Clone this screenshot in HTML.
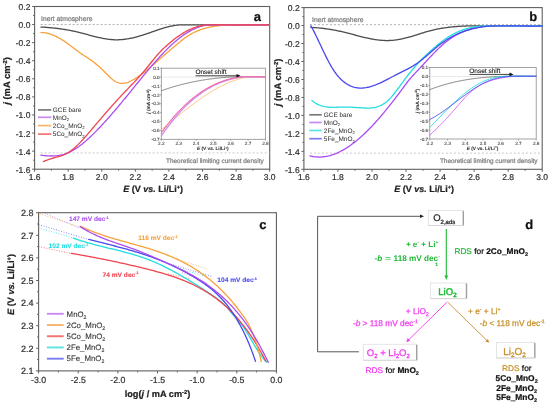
<!DOCTYPE html><html><head><meta charset="utf-8"><style>html,body{margin:0;padding:0;background:#fff;overflow:hidden;width:550px;height:405px;}svg{display:block;filter:blur(0.35px);}text{font-family:"Liberation Sans", sans-serif;text-rendering:geometricPrecision;}</style></head><body>
<svg width="550" height="405" viewBox="0 0 550 405">
<rect width="550" height="405" fill="#fff"/>
<rect x="34.60" y="6.50" width="235.10" height="162.70" fill="none" stroke="#606060" stroke-width="1.10"/>
<line x1="32.10" y1="6.50" x2="34.60" y2="6.50" stroke="#606060" stroke-width="1.00" />
<text x="30.40" y="10.00" font-size="8.50" text-anchor="end" font-weight="normal" fill="#333" stroke="#333" stroke-width="0.22" >0.2</text>
<line x1="33.10" y1="15.54" x2="34.60" y2="15.54" stroke="#606060" stroke-width="1.00" />
<line x1="32.10" y1="24.58" x2="34.60" y2="24.58" stroke="#606060" stroke-width="1.00" />
<text x="30.40" y="28.08" font-size="8.50" text-anchor="end" font-weight="normal" fill="#333" stroke="#333" stroke-width="0.22" >0.0</text>
<line x1="33.10" y1="33.62" x2="34.60" y2="33.62" stroke="#606060" stroke-width="1.00" />
<line x1="32.10" y1="42.66" x2="34.60" y2="42.66" stroke="#606060" stroke-width="1.00" />
<text x="30.40" y="46.16" font-size="8.50" text-anchor="end" font-weight="normal" fill="#333" stroke="#333" stroke-width="0.22" >-0.2</text>
<line x1="33.10" y1="51.69" x2="34.60" y2="51.69" stroke="#606060" stroke-width="1.00" />
<line x1="32.10" y1="60.73" x2="34.60" y2="60.73" stroke="#606060" stroke-width="1.00" />
<text x="30.40" y="64.23" font-size="8.50" text-anchor="end" font-weight="normal" fill="#333" stroke="#333" stroke-width="0.22" >-0.4</text>
<line x1="33.10" y1="69.77" x2="34.60" y2="69.77" stroke="#606060" stroke-width="1.00" />
<line x1="32.10" y1="78.81" x2="34.60" y2="78.81" stroke="#606060" stroke-width="1.00" />
<text x="30.40" y="82.31" font-size="8.50" text-anchor="end" font-weight="normal" fill="#333" stroke="#333" stroke-width="0.22" >-0.6</text>
<line x1="33.10" y1="87.85" x2="34.60" y2="87.85" stroke="#606060" stroke-width="1.00" />
<line x1="32.10" y1="96.89" x2="34.60" y2="96.89" stroke="#606060" stroke-width="1.00" />
<text x="30.40" y="100.39" font-size="8.50" text-anchor="end" font-weight="normal" fill="#333" stroke="#333" stroke-width="0.22" >-0.8</text>
<line x1="33.10" y1="105.93" x2="34.60" y2="105.93" stroke="#606060" stroke-width="1.00" />
<line x1="32.10" y1="114.97" x2="34.60" y2="114.97" stroke="#606060" stroke-width="1.00" />
<text x="30.40" y="118.47" font-size="8.50" text-anchor="end" font-weight="normal" fill="#333" stroke="#333" stroke-width="0.22" >-1.0</text>
<line x1="33.10" y1="124.01" x2="34.60" y2="124.01" stroke="#606060" stroke-width="1.00" />
<line x1="32.10" y1="133.04" x2="34.60" y2="133.04" stroke="#606060" stroke-width="1.00" />
<text x="30.40" y="136.54" font-size="8.50" text-anchor="end" font-weight="normal" fill="#333" stroke="#333" stroke-width="0.22" >-1.2</text>
<line x1="33.10" y1="142.08" x2="34.60" y2="142.08" stroke="#606060" stroke-width="1.00" />
<line x1="32.10" y1="151.12" x2="34.60" y2="151.12" stroke="#606060" stroke-width="1.00" />
<text x="30.40" y="154.62" font-size="8.50" text-anchor="end" font-weight="normal" fill="#333" stroke="#333" stroke-width="0.22" >-1.4</text>
<line x1="33.10" y1="160.16" x2="34.60" y2="160.16" stroke="#606060" stroke-width="1.00" />
<line x1="32.10" y1="169.20" x2="34.60" y2="169.20" stroke="#606060" stroke-width="1.00" />
<text x="30.40" y="172.70" font-size="8.50" text-anchor="end" font-weight="normal" fill="#333" stroke="#333" stroke-width="0.22" >-1.6</text>
<line x1="34.60" y1="169.20" x2="34.60" y2="171.70" stroke="#606060" stroke-width="1.00" />
<text x="34.60" y="180.20" font-size="8.50" text-anchor="middle" font-weight="normal" fill="#333" stroke="#333" stroke-width="0.22" >1.6</text>
<line x1="51.39" y1="169.20" x2="51.39" y2="170.70" stroke="#606060" stroke-width="1.00" />
<line x1="68.19" y1="169.20" x2="68.19" y2="171.70" stroke="#606060" stroke-width="1.00" />
<text x="68.19" y="180.20" font-size="8.50" text-anchor="middle" font-weight="normal" fill="#333" stroke="#333" stroke-width="0.22" >1.8</text>
<line x1="84.98" y1="169.20" x2="84.98" y2="170.70" stroke="#606060" stroke-width="1.00" />
<line x1="101.77" y1="169.20" x2="101.77" y2="171.70" stroke="#606060" stroke-width="1.00" />
<text x="101.77" y="180.20" font-size="8.50" text-anchor="middle" font-weight="normal" fill="#333" stroke="#333" stroke-width="0.22" >2.0</text>
<line x1="118.56" y1="169.20" x2="118.56" y2="170.70" stroke="#606060" stroke-width="1.00" />
<line x1="135.36" y1="169.20" x2="135.36" y2="171.70" stroke="#606060" stroke-width="1.00" />
<text x="135.36" y="180.20" font-size="8.50" text-anchor="middle" font-weight="normal" fill="#333" stroke="#333" stroke-width="0.22" >2.2</text>
<line x1="152.15" y1="169.20" x2="152.15" y2="170.70" stroke="#606060" stroke-width="1.00" />
<line x1="168.94" y1="169.20" x2="168.94" y2="171.70" stroke="#606060" stroke-width="1.00" />
<text x="168.94" y="180.20" font-size="8.50" text-anchor="middle" font-weight="normal" fill="#333" stroke="#333" stroke-width="0.22" >2.4</text>
<line x1="185.74" y1="169.20" x2="185.74" y2="170.70" stroke="#606060" stroke-width="1.00" />
<line x1="202.53" y1="169.20" x2="202.53" y2="171.70" stroke="#606060" stroke-width="1.00" />
<text x="202.53" y="180.20" font-size="8.50" text-anchor="middle" font-weight="normal" fill="#333" stroke="#333" stroke-width="0.22" >2.6</text>
<line x1="219.32" y1="169.20" x2="219.32" y2="170.70" stroke="#606060" stroke-width="1.00" />
<line x1="236.11" y1="169.20" x2="236.11" y2="171.70" stroke="#606060" stroke-width="1.00" />
<text x="236.11" y="180.20" font-size="8.50" text-anchor="middle" font-weight="normal" fill="#333" stroke="#333" stroke-width="0.22" >2.8</text>
<line x1="252.91" y1="169.20" x2="252.91" y2="170.70" stroke="#606060" stroke-width="1.00" />
<line x1="269.70" y1="169.20" x2="269.70" y2="171.70" stroke="#606060" stroke-width="1.00" />
<text x="269.70" y="180.20" font-size="8.50" text-anchor="middle" font-weight="normal" fill="#333" stroke="#333" stroke-width="0.22" >3.0</text>
<line x1="40.60" y1="24.58" x2="269.70" y2="24.58" stroke="#9a9a9a" stroke-width="0.80" stroke-dasharray="2,2"/>
<line x1="40.60" y1="152.93" x2="269.70" y2="152.93" stroke="#bdbdbd" stroke-width="0.80" stroke-dasharray="2,2"/>
<text x="41.10" y="21.08" font-size="6.80" text-anchor="start" font-weight="normal" fill="#7a7a7a" stroke="#7a7a7a" stroke-width="0.22" >Inert atmosphere</text>
<text x="263.70" y="162.93" font-size="6.45" text-anchor="end" font-weight="normal" fill="#7d7d7d" stroke="#7d7d7d" stroke-width="0.22" >Theoretical limiting current density</text>
<text x="253.80" y="20.80" font-size="13.00" text-anchor="start" font-weight="bold" fill="#111" stroke="#111" stroke-width="0.22" >a</text>
<text x="153.15" y="191.70" font-size="9.00" text-anchor="middle" font-weight="bold" fill="#222" stroke="#222" stroke-width="0.22" ><tspan font-style="italic">E</tspan> (V <tspan font-style="italic">vs.</tspan> Li/Li<tspan dy="-3" font-size="5.5">+</tspan><tspan dy="3">)</tspan></text>
<g transform="translate(10.20,81.00) rotate(-90)">
<text x="0.00" y="0.00" font-size="9.40" text-anchor="middle" font-weight="bold" fill="#222" stroke="#222" stroke-width="0.22" ><tspan font-style="italic">j</tspan> (mA cm<tspan dy="-3.2" font-size="5.8">-2</tspan><tspan dy="3.2">)</tspan></text>
</g>
<path d="M40.90,27.04 L41.90,27.09 L42.90,27.14 L43.90,27.20 L44.90,27.26 L45.90,27.33 L46.90,27.40 L47.90,27.48 L48.90,27.56 L49.90,27.64 L50.90,27.73 L51.90,27.82 L52.90,27.92 L53.90,28.03 L54.90,28.14 L55.90,28.25 L56.90,28.37 L57.90,28.49 L58.90,28.62 L59.90,28.75 L60.90,28.89 L61.90,29.04 L62.90,29.19 L63.90,29.34 L64.90,29.50 L65.90,29.67 L66.90,29.84 L67.90,30.02 L68.90,30.21 L69.90,30.40 L70.90,30.59 L71.90,30.79 L72.90,31.00 L73.90,31.22 L74.90,31.44 L75.90,31.66 L76.90,31.90 L77.90,32.14 L78.90,32.38 L79.90,32.63 L80.90,32.89 L81.90,33.15 L82.90,33.41 L83.90,33.67 L84.90,33.94 L85.90,34.20 L86.90,34.47 L87.90,34.74 L88.90,35.01 L89.90,35.27 L90.90,35.54 L91.90,35.80 L92.90,36.06 L93.90,36.31 L94.90,36.57 L95.90,36.81 L96.90,37.05 L97.90,37.29 L98.90,37.52 L99.90,37.74 L100.90,37.95 L101.90,38.16 L102.90,38.35 L103.90,38.54 L104.90,38.72 L105.90,38.88 L106.90,39.04 L107.90,39.18 L108.90,39.31 L109.90,39.42 L110.90,39.52 L111.90,39.61 L112.90,39.68 L113.90,39.74 L114.90,39.78 L115.90,39.80 L116.90,39.81 L117.90,39.80 L118.90,39.77 L119.90,39.72 L120.90,39.66 L121.90,39.58 L122.90,39.49 L123.90,39.38 L124.90,39.26 L125.90,39.12 L126.90,38.97 L127.90,38.81 L128.90,38.63 L129.90,38.44 L130.90,38.24 L131.90,38.02 L132.90,37.80 L133.90,37.56 L134.90,37.32 L135.90,37.06 L136.90,36.79 L137.90,36.52 L138.90,36.24 L139.90,35.94 L140.90,35.64 L141.90,35.34 L142.90,35.02 L143.90,34.70 L144.90,34.38 L145.90,34.04 L146.90,33.71 L147.90,33.36 L148.90,33.02 L149.90,32.67 L150.90,32.32 L151.90,31.97 L152.90,31.62 L153.90,31.27 L154.90,30.92 L155.90,30.58 L156.90,30.23 L157.90,29.89 L158.90,29.56 L159.90,29.23 L160.90,28.91 L161.90,28.59 L162.90,28.28 L163.90,27.98 L164.90,27.69 L165.90,27.41 L166.90,27.14 L167.90,26.89 L168.90,26.64 L169.90,26.41 L170.90,26.20 L171.90,25.99 L172.90,25.80 L173.90,25.63 L174.90,25.47 L175.90,25.32 L176.90,25.18 L177.90,25.06 L178.90,24.95 L179.90,24.86 L180.90,24.80 L181.90,24.80 L182.90,24.80 L183.90,24.80 L184.90,24.80 L185.90,24.80 L186.90,24.80 L187.90,24.80 L188.90,24.80 L189.90,24.80 L190.90,24.80 L191.90,24.80 L192.90,24.80 L193.90,24.80 L194.90,24.80 L195.90,24.80 L196.90,24.80 L197.90,24.80 L198.90,24.80 L199.90,24.80 L200.90,24.80 L201.90,24.80 L202.90,24.80 L203.90,24.80 L204.90,24.80 L205.90,24.80 L206.90,24.80 L207.90,24.81 L208.90,24.83 L209.90,24.84 L210.90,24.86 L211.90,24.87 L212.90,24.88 L213.90,24.89 L214.90,24.89 L215.90,24.90 L216.90,24.91 L217.90,24.91 L218.90,24.91 L219.90,24.92 L220.90,24.92 L221.90,24.92 L222.90,24.92 L223.90,24.91 L224.90,24.91 L225.90,24.91 L226.90,24.91 L227.90,24.90 L228.90,24.90 L229.90,24.89 L230.90,24.88 L231.90,24.88 L232.90,24.87 L233.90,24.86 L234.90,24.86 L235.90,24.85 L236.90,24.84 L237.90,24.83 L238.90,24.82 L239.90,24.81 L240.90,24.81 L241.90,24.80 L242.90,24.80 L243.90,24.80 L244.90,24.80 L245.90,24.80 L246.90,24.80 L247.90,24.80 L248.90,24.80 L249.90,24.80 L250.90,24.80 L251.90,24.80 L252.90,24.80 L253.90,24.80 L254.90,24.80 L255.90,24.80 L256.90,24.80 L257.90,24.80 L258.90,24.80 L259.90,24.80 L260.90,24.80 L261.90,24.80 L262.90,24.80 L263.90,24.80 L264.90,24.80 L265.90,24.80 L266.90,24.81 L267.90,24.83 L268.90,24.85 L269.00,24.85" fill="none" stroke="#4d4d4d" stroke-width="1.30" stroke-linejoin="round" stroke-linecap="round" />
<path d="M40.90,32.53 L41.90,32.54 L42.90,32.59 L43.90,32.68 L44.90,32.81 L45.90,32.97 L46.90,33.17 L47.90,33.40 L48.90,33.67 L49.90,33.97 L50.90,34.30 L51.90,34.66 L52.90,35.06 L53.90,35.48 L54.90,35.92 L55.90,36.40 L56.90,36.89 L57.90,37.42 L58.90,37.96 L59.90,38.53 L60.90,39.11 L61.90,39.72 L62.90,40.35 L63.90,40.99 L64.90,41.65 L65.90,42.33 L66.90,43.02 L67.90,43.72 L68.90,44.44 L69.90,45.16 L70.90,45.90 L71.90,46.65 L72.90,47.40 L73.90,48.16 L74.90,48.92 L75.90,49.69 L76.90,50.45 L77.90,51.21 L78.90,51.95 L79.90,52.69 L80.90,53.41 L81.90,54.11 L82.90,54.79 L83.90,55.46 L84.90,56.11 L85.90,56.76 L86.90,57.41 L87.90,58.07 L88.90,58.73 L89.90,59.41 L90.90,60.10 L91.90,60.82 L92.90,61.55 L93.90,62.30 L94.90,63.08 L95.90,63.87 L96.90,64.69 L97.90,65.54 L98.90,66.41 L99.90,67.31 L100.90,68.23 L101.90,69.19 L102.90,70.18 L103.90,71.18 L104.90,72.20 L105.90,73.22 L106.90,74.24 L107.90,75.25 L108.90,76.23 L109.90,77.18 L110.90,78.09 L111.90,78.95 L112.90,79.76 L113.90,80.50 L114.90,81.16 L115.90,81.74 L116.90,82.23 L117.90,82.63 L118.90,82.94 L119.90,83.16 L120.90,83.29 L121.90,83.35 L122.90,83.34 L123.90,83.25 L124.90,83.09 L125.90,82.88 L126.90,82.60 L127.90,82.27 L128.90,81.89 L129.90,81.46 L130.90,80.99 L131.90,80.47 L132.90,79.93 L133.90,79.35 L134.90,78.74 L135.90,78.11 L136.90,77.46 L137.90,76.79 L138.90,76.10 L139.90,75.40 L140.90,74.68 L141.90,73.94 L142.90,73.19 L143.90,72.42 L144.90,71.65 L145.90,70.86 L146.90,70.05 L147.90,69.24 L148.90,68.42 L149.90,67.59 L150.90,66.75 L151.90,65.91 L152.90,65.05 L153.90,64.20 L154.90,63.33 L155.90,62.47 L156.90,61.60 L157.90,60.73 L158.90,59.85 L159.90,58.98 L160.90,58.11 L161.90,57.23 L162.90,56.36 L163.90,55.48 L164.90,54.61 L165.90,53.74 L166.90,52.88 L167.90,52.01 L168.90,51.15 L169.90,50.29 L170.90,49.43 L171.90,48.58 L172.90,47.73 L173.90,46.89 L174.90,46.05 L175.90,45.22 L176.90,44.40 L177.90,43.58 L178.90,42.77 L179.90,41.96 L180.90,41.17 L181.90,40.38 L182.90,39.60 L183.90,38.83 L184.90,38.08 L185.90,37.34 L186.90,36.63 L187.90,35.95 L188.90,35.30 L189.90,34.68 L190.90,34.09 L191.90,33.53 L192.90,32.99 L193.90,32.48 L194.90,32.00 L195.90,31.54 L196.90,31.10 L197.90,30.68 L198.90,30.29 L199.90,29.92 L200.90,29.56 L201.90,29.23 L202.90,28.91 L203.90,28.61 L204.90,28.33 L205.90,28.06 L206.90,27.80 L207.90,27.56 L208.90,27.34 L209.90,27.12 L210.90,26.92 L211.90,26.72 L212.90,26.54 L213.90,26.37 L214.90,26.21 L215.90,26.06 L216.90,25.92 L217.90,25.79 L218.90,25.67 L219.90,25.55 L220.90,25.45 L221.90,25.35 L222.90,25.26 L223.90,25.18 L224.90,25.11 L225.90,25.04 L226.90,24.98 L227.90,24.93 L228.90,24.88 L229.90,24.84 L230.90,24.81 L231.90,24.80 L232.90,24.80 L233.90,24.80 L234.90,24.80 L235.90,24.80 L236.90,24.80 L237.90,24.80 L238.90,24.80 L239.90,24.80 L240.90,24.80 L241.90,24.80 L242.90,24.80 L243.90,24.80 L244.90,24.80 L245.90,24.80 L246.90,24.80 L247.90,24.80 L248.90,24.80 L249.90,24.82 L250.90,24.83 L251.90,24.85 L252.90,24.86 L253.90,24.87 L254.90,24.89 L255.90,24.89 L256.90,24.90 L257.90,24.91 L258.90,24.91 L259.90,24.91 L260.90,24.91 L261.90,24.90 L262.90,24.89 L263.90,24.87 L264.90,24.85 L265.90,24.83 L266.90,24.80 L267.90,24.80 L268.90,24.80 L269.00,24.80" fill="none" stroke="#f9a13a" stroke-width="1.30" stroke-linejoin="round" stroke-linecap="round" />
<path d="M40.90,155.13 L41.90,155.27 L42.90,155.40 L43.90,155.53 L44.90,155.64 L45.90,155.73 L46.90,155.81 L47.90,155.88 L48.90,155.93 L49.90,155.97 L50.90,155.99 L51.90,155.98 L52.90,155.97 L53.90,155.93 L54.90,155.87 L55.90,155.78 L56.90,155.68 L57.90,155.55 L58.90,155.40 L59.90,155.22 L60.90,155.02 L61.90,154.79 L62.90,154.54 L63.90,154.26 L64.90,153.94 L65.90,153.60 L66.90,153.23 L67.90,152.83 L68.90,152.39 L69.90,151.93 L70.90,151.43 L71.90,150.91 L72.90,150.35 L73.90,149.77 L74.90,149.16 L75.90,148.52 L76.90,147.86 L77.90,147.18 L78.90,146.47 L79.90,145.73 L80.90,144.97 L81.90,144.20 L82.90,143.39 L83.90,142.57 L84.90,141.73 L85.90,140.87 L86.90,139.99 L87.90,139.10 L88.90,138.18 L89.90,137.25 L90.90,136.31 L91.90,135.35 L92.90,134.38 L93.90,133.39 L94.90,132.39 L95.90,131.38 L96.90,130.35 L97.90,129.32 L98.90,128.28 L99.90,127.23 L100.90,126.16 L101.90,125.09 L102.90,124.01 L103.90,122.92 L104.90,121.83 L105.90,120.72 L106.90,119.61 L107.90,118.49 L108.90,117.36 L109.90,116.22 L110.90,115.08 L111.90,113.93 L112.90,112.78 L113.90,111.61 L114.90,110.44 L115.90,109.27 L116.90,108.09 L117.90,106.91 L118.90,105.72 L119.90,104.52 L120.90,103.32 L121.90,102.12 L122.90,100.91 L123.90,99.70 L124.90,98.48 L125.90,97.26 L126.90,96.04 L127.90,94.82 L128.90,93.59 L129.90,92.36 L130.90,91.13 L131.90,89.90 L132.90,88.66 L133.90,87.43 L134.90,86.20 L135.90,84.96 L136.90,83.73 L137.90,82.50 L138.90,81.27 L139.90,80.04 L140.90,78.82 L141.90,77.60 L142.90,76.38 L143.90,75.17 L144.90,73.96 L145.90,72.75 L146.90,71.55 L147.90,70.36 L148.90,69.17 L149.90,67.99 L150.90,66.82 L151.90,65.65 L152.90,64.49 L153.90,63.34 L154.90,62.20 L155.90,61.07 L156.90,59.94 L157.90,58.83 L158.90,57.73 L159.90,56.64 L160.90,55.56 L161.90,54.49 L162.90,53.43 L163.90,52.39 L164.90,51.36 L165.90,50.34 L166.90,49.34 L167.90,48.35 L168.90,47.37 L169.90,46.42 L170.90,45.47 L171.90,44.55 L172.90,43.64 L173.90,42.74 L174.90,41.87 L175.90,41.01 L176.90,40.17 L177.90,39.35 L178.90,38.55 L179.90,37.77 L180.90,37.00 L181.90,36.26 L182.90,35.54 L183.90,34.84 L184.90,34.16 L185.90,33.50 L186.90,32.86 L187.90,32.25 L188.90,31.66 L189.90,31.09 L190.90,30.54 L191.90,30.02 L192.90,29.52 L193.90,29.04 L194.90,28.59 L195.90,28.16 L196.90,27.76 L197.90,27.38 L198.90,27.03 L199.90,26.71 L200.90,26.41 L201.90,26.13 L202.90,25.89 L203.90,25.67 L204.90,25.47 L205.90,25.30 L206.90,25.14 L207.90,25.01 L208.90,24.90 L209.90,24.81 L210.90,24.80 L211.90,24.80 L212.90,24.80 L213.90,24.80 L214.90,24.80 L215.90,24.80 L216.90,24.80 L217.90,24.80 L218.90,24.80 L219.90,24.80 L220.90,24.80 L221.90,24.80 L222.90,24.80 L223.90,24.80 L224.90,24.80 L225.90,24.80 L226.90,24.81 L227.90,24.84 L228.90,24.86 L229.90,24.88 L230.90,24.90 L231.90,24.91 L232.90,24.92 L233.90,24.93 L234.90,24.93 L235.90,24.93 L236.90,24.93 L237.90,24.93 L238.90,24.93 L239.90,24.92 L240.90,24.91 L241.90,24.90 L242.90,24.89 L243.90,24.88 L244.90,24.87 L245.90,24.86 L246.90,24.85 L247.90,24.84 L248.90,24.82 L249.90,24.81 L250.90,24.80 L251.90,24.80 L252.90,24.80 L253.90,24.80 L254.90,24.80 L255.90,24.80 L256.90,24.80 L257.90,24.80 L258.90,24.80 L259.90,24.80 L260.90,24.80 L261.90,24.80 L262.90,24.80 L263.90,24.80 L264.90,24.80 L265.90,24.80 L266.90,24.80 L267.90,24.80 L268.90,24.83 L269.00,24.83" fill="none" stroke="#aa4cf2" stroke-width="1.30" stroke-linejoin="round" stroke-linecap="round" />
<path d="M43.50,161.69 L44.50,161.18 L45.50,160.71 L46.50,160.28 L47.50,159.88 L48.50,159.51 L49.50,159.17 L50.50,158.86 L51.50,158.56 L52.50,158.27 L53.50,158.00 L54.50,157.73 L55.50,157.46 L56.50,157.19 L57.50,156.92 L58.50,156.64 L59.50,156.34 L60.50,156.03 L61.50,155.69 L62.50,155.33 L63.50,154.94 L64.50,154.51 L65.50,154.05 L66.50,153.55 L67.50,153.00 L68.50,152.40 L69.50,151.75 L70.50,151.06 L71.50,150.33 L72.50,149.55 L73.50,148.73 L74.50,147.88 L75.50,146.99 L76.50,146.06 L77.50,145.11 L78.50,144.13 L79.50,143.11 L80.50,142.08 L81.50,141.02 L82.50,139.94 L83.50,138.84 L84.50,137.73 L85.50,136.60 L86.50,135.46 L87.50,134.31 L88.50,133.15 L89.50,131.98 L90.50,130.81 L91.50,129.64 L92.50,128.47 L93.50,127.29 L94.50,126.12 L95.50,124.95 L96.50,123.78 L97.50,122.60 L98.50,121.43 L99.50,120.26 L100.50,119.09 L101.50,117.93 L102.50,116.76 L103.50,115.60 L104.50,114.44 L105.50,113.29 L106.50,112.13 L107.50,110.98 L108.50,109.84 L109.50,108.70 L110.50,107.56 L111.50,106.43 L112.50,105.30 L113.50,104.18 L114.50,103.06 L115.50,101.95 L116.50,100.84 L117.50,99.75 L118.50,98.65 L119.50,97.57 L120.50,96.49 L121.50,95.42 L122.50,94.36 L123.50,93.31 L124.50,92.26 L125.50,91.22 L126.50,90.18 L127.50,89.14 L128.50,88.10 L129.50,87.07 L130.50,86.03 L131.50,84.99 L132.50,83.95 L133.50,82.90 L134.50,81.84 L135.50,80.78 L136.50,79.71 L137.50,78.63 L138.50,77.54 L139.50,76.43 L140.50,75.32 L141.50,74.18 L142.50,73.04 L143.50,71.87 L144.50,70.69 L145.50,69.49 L146.50,68.26 L147.50,67.03 L148.50,65.78 L149.50,64.53 L150.50,63.28 L151.50,62.03 L152.50,60.78 L153.50,59.55 L154.50,58.33 L155.50,57.13 L156.50,55.95 L157.50,54.80 L158.50,53.68 L159.50,52.59 L160.50,51.54 L161.50,50.51 L162.50,49.52 L163.50,48.55 L164.50,47.60 L165.50,46.68 L166.50,45.78 L167.50,44.89 L168.50,44.02 L169.50,43.17 L170.50,42.32 L171.50,41.49 L172.50,40.67 L173.50,39.87 L174.50,39.08 L175.50,38.32 L176.50,37.57 L177.50,36.84 L178.50,36.13 L179.50,35.44 L180.50,34.77 L181.50,34.13 L182.50,33.50 L183.50,32.89 L184.50,32.30 L185.50,31.74 L186.50,31.19 L187.50,30.67 L188.50,30.17 L189.50,29.69 L190.50,29.23 L191.50,28.79 L192.50,28.37 L193.50,27.97 L194.50,27.60 L195.50,27.25 L196.50,26.92 L197.50,26.61 L198.50,26.33 L199.50,26.07 L200.50,25.83 L201.50,25.61 L202.50,25.42 L203.50,25.24 L204.50,25.09 L205.50,24.96 L206.50,24.85 L207.50,24.80 L208.50,24.80 L209.50,24.80 L210.50,24.80 L211.50,24.80 L212.50,24.80 L213.50,24.80 L214.50,24.80 L215.50,24.80 L216.50,24.80 L217.50,24.80 L218.50,24.80 L219.50,24.80 L220.50,24.80 L221.50,24.80 L222.50,24.80 L223.50,24.80 L224.50,24.80 L225.50,24.83 L226.50,24.86 L227.50,24.89 L228.50,24.92 L229.50,24.94 L230.50,24.95 L231.50,24.96 L232.50,24.97 L233.50,24.97 L234.50,24.98 L235.50,24.97 L236.50,24.97 L237.50,24.96 L238.50,24.95 L239.50,24.94 L240.50,24.93 L241.50,24.91 L242.50,24.90 L243.50,24.88 L244.50,24.86 L245.50,24.84 L246.50,24.82 L247.50,24.80 L248.50,24.80 L249.50,24.80 L250.50,24.80 L251.50,24.80 L252.50,24.80 L253.50,24.80 L254.50,24.80 L255.50,24.80 L256.50,24.80 L257.50,24.80 L258.50,24.80 L259.50,24.80 L260.50,24.80 L261.50,24.80 L262.50,24.80 L263.50,24.80 L264.50,24.80 L265.50,24.80 L266.50,24.80 L267.50,24.83 L268.50,24.87 L269.00,24.89" fill="none" stroke="#f0444f" stroke-width="1.30" stroke-linejoin="round" stroke-linecap="round" />
<line x1="38.00" y1="109.90" x2="51.30" y2="109.90" stroke="#7a7a7a" stroke-width="1.70" />
<text x="52.80" y="112.20" font-size="6.45" text-anchor="start" font-weight="normal" fill="#383838" stroke="#383838" stroke-width="0.05" >GCE bare</text>
<line x1="38.00" y1="117.30" x2="51.30" y2="117.30" stroke="#c78af5" stroke-width="1.70" />
<text x="52.80" y="119.60" font-size="6.45" text-anchor="start" font-weight="normal" fill="#383838" stroke="#383838" stroke-width="0.05" >MnO<tspan dy="1.5" font-size="4.2">2</tspan></text>
<line x1="38.00" y1="125.60" x2="51.30" y2="125.60" stroke="#f8b46a" stroke-width="1.70" />
<text x="52.80" y="127.90" font-size="6.45" text-anchor="start" font-weight="normal" fill="#383838" stroke="#383838" stroke-width="0.05" >2Co_MnO<tspan dy="1.5" font-size="4.2">2</tspan></text>
<line x1="38.00" y1="134.10" x2="51.30" y2="134.10" stroke="#f37272" stroke-width="1.70" />
<text x="52.80" y="136.40" font-size="6.45" text-anchor="start" font-weight="normal" fill="#383838" stroke="#383838" stroke-width="0.05" >5Co_MnO<tspan dy="1.5" font-size="4.2">2</tspan></text>
<rect x="161.30" y="68.20" width="104.10" height="71.10" fill="#fff" stroke="#8c8c8c" stroke-width="0.8"/>
<line x1="161.30" y1="77.09" x2="265.40" y2="77.09" stroke="#d8d8d8" stroke-width="0.60" />
<line x1="159.80" y1="68.20" x2="161.30" y2="68.20" stroke="#777" stroke-width="0.60" />
<text x="159.70" y="69.90" font-size="4.70" text-anchor="end" font-weight="normal" fill="#444" stroke="#444" stroke-width="0.10" >0.1</text>
<line x1="159.80" y1="77.09" x2="161.30" y2="77.09" stroke="#777" stroke-width="0.60" />
<text x="159.70" y="78.79" font-size="4.70" text-anchor="end" font-weight="normal" fill="#444" stroke="#444" stroke-width="0.10" >0.0</text>
<line x1="159.80" y1="85.98" x2="161.30" y2="85.98" stroke="#777" stroke-width="0.60" />
<text x="159.70" y="87.68" font-size="4.70" text-anchor="end" font-weight="normal" fill="#444" stroke="#444" stroke-width="0.10" >-0.1</text>
<line x1="159.80" y1="94.86" x2="161.30" y2="94.86" stroke="#777" stroke-width="0.60" />
<text x="159.70" y="96.56" font-size="4.70" text-anchor="end" font-weight="normal" fill="#444" stroke="#444" stroke-width="0.10" >-0.2</text>
<line x1="159.80" y1="103.75" x2="161.30" y2="103.75" stroke="#777" stroke-width="0.60" />
<text x="159.70" y="105.45" font-size="4.70" text-anchor="end" font-weight="normal" fill="#444" stroke="#444" stroke-width="0.10" >-0.3</text>
<line x1="159.80" y1="112.64" x2="161.30" y2="112.64" stroke="#777" stroke-width="0.60" />
<text x="159.70" y="114.34" font-size="4.70" text-anchor="end" font-weight="normal" fill="#444" stroke="#444" stroke-width="0.10" >-0.4</text>
<line x1="159.80" y1="121.53" x2="161.30" y2="121.53" stroke="#777" stroke-width="0.60" />
<text x="159.70" y="123.23" font-size="4.70" text-anchor="end" font-weight="normal" fill="#444" stroke="#444" stroke-width="0.10" >-0.5</text>
<line x1="159.80" y1="130.41" x2="161.30" y2="130.41" stroke="#777" stroke-width="0.60" />
<text x="159.70" y="132.11" font-size="4.70" text-anchor="end" font-weight="normal" fill="#444" stroke="#444" stroke-width="0.10" >-0.6</text>
<line x1="159.80" y1="139.30" x2="161.30" y2="139.30" stroke="#777" stroke-width="0.60" />
<text x="159.70" y="141.00" font-size="4.70" text-anchor="end" font-weight="normal" fill="#444" stroke="#444" stroke-width="0.10" >-0.7</text>
<line x1="161.30" y1="139.30" x2="161.30" y2="140.80" stroke="#777" stroke-width="0.60" />
<text x="161.30" y="144.90" font-size="4.70" text-anchor="middle" font-weight="normal" fill="#444" stroke="#444" stroke-width="0.10" >2.2</text>
<line x1="178.65" y1="139.30" x2="178.65" y2="140.80" stroke="#777" stroke-width="0.60" />
<text x="178.65" y="144.90" font-size="4.70" text-anchor="middle" font-weight="normal" fill="#444" stroke="#444" stroke-width="0.10" >2.3</text>
<line x1="196.00" y1="139.30" x2="196.00" y2="140.80" stroke="#777" stroke-width="0.60" />
<text x="196.00" y="144.90" font-size="4.70" text-anchor="middle" font-weight="normal" fill="#444" stroke="#444" stroke-width="0.10" >2.4</text>
<line x1="213.35" y1="139.30" x2="213.35" y2="140.80" stroke="#777" stroke-width="0.60" />
<text x="213.35" y="144.90" font-size="4.70" text-anchor="middle" font-weight="normal" fill="#444" stroke="#444" stroke-width="0.10" >2.5</text>
<line x1="230.70" y1="139.30" x2="230.70" y2="140.80" stroke="#777" stroke-width="0.60" />
<text x="230.70" y="144.90" font-size="4.70" text-anchor="middle" font-weight="normal" fill="#444" stroke="#444" stroke-width="0.10" >2.6</text>
<line x1="248.05" y1="139.30" x2="248.05" y2="140.80" stroke="#777" stroke-width="0.60" />
<text x="248.05" y="144.90" font-size="4.70" text-anchor="middle" font-weight="normal" fill="#444" stroke="#444" stroke-width="0.10" >2.7</text>
<line x1="265.40" y1="139.30" x2="265.40" y2="140.80" stroke="#777" stroke-width="0.60" />
<text x="265.40" y="144.90" font-size="4.70" text-anchor="middle" font-weight="normal" fill="#444" stroke="#444" stroke-width="0.10" >2.8</text>
<text x="212.85" y="150.30" font-size="4.75" text-anchor="middle" font-weight="bold" fill="#333" stroke="#333" stroke-width="0.08" ><tspan font-style="italic">E</tspan> (V vs. Li/Li<tspan dy="-1.6" font-size="3.2">+</tspan><tspan dy="1.6">)</tspan></text>
<g transform="translate(150.20,101.55) rotate(-90)">
<text x="0.00" y="0.00" font-size="4.75" text-anchor="middle" font-weight="bold" fill="#333" stroke="#333" stroke-width="0.08" ><tspan font-style="italic">j</tspan> (mA cm<tspan dy="-1.6" font-size="3.2">-2</tspan><tspan dy="1.6">)</tspan></text>
</g>
<path d="M161.50,90.65 L162.50,90.30 L163.50,89.96 L164.50,89.62 L165.50,89.28 L166.50,88.95 L167.50,88.62 L168.50,88.30 L169.50,87.99 L170.50,87.68 L171.50,87.37 L172.50,87.07 L173.50,86.77 L174.50,86.48 L175.50,86.19 L176.50,85.91 L177.50,85.63 L178.50,85.36 L179.50,85.09 L180.50,84.82 L181.50,84.56 L182.50,84.31 L183.50,84.06 L184.50,83.81 L185.50,83.57 L186.50,83.33 L187.50,83.10 L188.50,82.87 L189.50,82.65 L190.50,82.43 L191.50,82.22 L192.50,82.01 L193.50,81.80 L194.50,81.60 L195.50,81.40 L196.50,81.21 L197.50,81.02 L198.50,80.84 L199.50,80.66 L200.50,80.48 L201.50,80.31 L202.50,80.14 L203.50,79.98 L204.50,79.82 L205.50,79.66 L206.50,79.51 L207.50,79.36 L208.50,79.22 L209.50,79.08 L210.50,78.95 L211.50,78.82 L212.50,78.69 L213.50,78.57 L214.50,78.45 L215.50,78.33 L216.50,78.22 L217.50,78.11 L218.50,78.01 L219.50,77.91 L220.50,77.82 L221.50,77.72 L222.50,77.63 L223.50,77.55 L224.50,77.47 L225.50,77.39 L226.50,77.32 L227.50,77.25 L228.50,77.18 L229.50,77.12 L230.50,77.06 L231.50,77.00 L232.50,76.95 L233.50,76.90 L234.50,76.86 L235.50,76.82 L236.50,76.80 L237.50,76.80 L238.50,76.80 L239.50,76.80 L240.50,76.80 L241.50,76.80 L242.50,76.80 L243.50,76.80 L244.50,76.80 L245.50,76.80 L246.50,76.80 L247.50,76.80 L248.50,76.80 L249.50,76.80 L250.50,76.80 L251.50,76.80 L252.50,76.80 L253.50,76.80 L254.50,76.80 L255.50,76.80 L256.50,76.80 L257.50,76.80 L258.50,76.80 L259.50,76.82 L260.50,76.86 L261.50,76.90 L262.50,76.94 L263.50,76.99 L264.50,77.04 L265.00,77.07" fill="none" stroke="#707070" stroke-width="0.90" stroke-linejoin="round" stroke-linecap="round" />
<path d="M161.50,129.68 L162.50,128.84 L163.50,128.00 L164.50,127.17 L165.50,126.33 L166.50,125.50 L167.50,124.66 L168.50,123.83 L169.50,123.00 L170.50,122.17 L171.50,121.34 L172.50,120.51 L173.50,119.68 L174.50,118.86 L175.50,118.04 L176.50,117.22 L177.50,116.41 L178.50,115.59 L179.50,114.78 L180.50,113.98 L181.50,113.17 L182.50,112.37 L183.50,111.58 L184.50,110.79 L185.50,110.00 L186.50,109.22 L187.50,108.44 L188.50,107.66 L189.50,106.90 L190.50,106.13 L191.50,105.37 L192.50,104.62 L193.50,103.87 L194.50,103.13 L195.50,102.40 L196.50,101.67 L197.50,100.95 L198.50,100.23 L199.50,99.52 L200.50,98.82 L201.50,98.12 L202.50,97.44 L203.50,96.76 L204.50,96.08 L205.50,95.42 L206.50,94.76 L207.50,94.11 L208.50,93.47 L209.50,92.84 L210.50,92.22 L211.50,91.61 L212.50,91.00 L213.50,90.41 L214.50,89.82 L215.50,89.25 L216.50,88.68 L217.50,88.13 L218.50,87.58 L219.50,87.05 L220.50,86.53 L221.50,86.01 L222.50,85.51 L223.50,85.02 L224.50,84.54 L225.50,84.08 L226.50,83.62 L227.50,83.18 L228.50,82.75 L229.50,82.33 L230.50,81.92 L231.50,81.53 L232.50,81.15 L233.50,80.78 L234.50,80.43 L235.50,80.09 L236.50,79.76 L237.50,79.45 L238.50,79.15 L239.50,78.86 L240.50,78.59 L241.50,78.34 L242.50,78.10 L243.50,77.87 L244.50,77.66 L245.50,77.46 L246.50,77.28 L247.50,77.12 L248.50,76.97 L249.50,76.84 L250.50,76.80 L251.50,76.80 L252.50,76.80 L253.50,76.80 L254.50,76.80 L255.50,76.80 L256.50,76.80 L257.50,76.80 L258.50,76.80 L259.50,76.80 L260.50,76.80 L261.50,76.80 L262.50,76.80 L263.50,76.80 L264.50,76.92 L265.00,76.99" fill="none" stroke="#fbb968" stroke-width="0.90" stroke-linejoin="round" stroke-linecap="round" />
<path d="M161.50,135.71 L162.50,134.25 L163.50,132.80 L164.50,131.38 L165.50,129.98 L166.50,128.60 L167.50,127.25 L168.50,125.91 L169.50,124.60 L170.50,123.30 L171.50,122.03 L172.50,120.78 L173.50,119.55 L174.50,118.34 L175.50,117.15 L176.50,115.98 L177.50,114.83 L178.50,113.70 L179.50,112.59 L180.50,111.50 L181.50,110.43 L182.50,109.38 L183.50,108.35 L184.50,107.34 L185.50,106.34 L186.50,105.37 L187.50,104.41 L188.50,103.48 L189.50,102.56 L190.50,101.66 L191.50,100.78 L192.50,99.91 L193.50,99.07 L194.50,98.24 L195.50,97.43 L196.50,96.64 L197.50,95.87 L198.50,95.11 L199.50,94.37 L200.50,93.65 L201.50,92.94 L202.50,92.25 L203.50,91.58 L204.50,90.93 L205.50,90.29 L206.50,89.66 L207.50,89.06 L208.50,88.47 L209.50,87.89 L210.50,87.33 L211.50,86.79 L212.50,86.26 L213.50,85.75 L214.50,85.26 L215.50,84.77 L216.50,84.31 L217.50,83.86 L218.50,83.42 L219.50,83.00 L220.50,82.59 L221.50,82.20 L222.50,81.82 L223.50,81.45 L224.50,81.10 L225.50,80.77 L226.50,80.44 L227.50,80.14 L228.50,79.84 L229.50,79.56 L230.50,79.29 L231.50,79.03 L232.50,78.79 L233.50,78.56 L234.50,78.34 L235.50,78.13 L236.50,77.94 L237.50,77.76 L238.50,77.59 L239.50,77.44 L240.50,77.29 L241.50,77.16 L242.50,77.04 L243.50,76.93 L244.50,76.83 L245.50,76.80 L246.50,76.80 L247.50,76.80 L248.50,76.80 L249.50,76.80 L250.50,76.80 L251.50,76.80 L252.50,76.80 L253.50,76.80 L254.50,76.80 L255.50,76.80 L256.50,76.80 L257.50,76.80 L258.50,76.80 L259.50,76.80 L260.50,76.80 L261.50,76.80 L262.50,76.86 L263.50,76.96 L264.50,77.06 L265.00,77.11" fill="none" stroke="#c68cf6" stroke-width="1.30" stroke-linejoin="round" stroke-linecap="round" />
<path d="M161.50,132.55 L162.50,131.16 L163.50,129.79 L164.50,128.45 L165.50,127.12 L166.50,125.81 L167.50,124.52 L168.50,123.25 L169.50,122.01 L170.50,120.78 L171.50,119.57 L172.50,118.38 L173.50,117.21 L174.50,116.06 L175.50,114.93 L176.50,113.81 L177.50,112.72 L178.50,111.64 L179.50,110.59 L180.50,109.55 L181.50,108.53 L182.50,107.53 L183.50,106.54 L184.50,105.58 L185.50,104.63 L186.50,103.70 L187.50,102.79 L188.50,101.89 L189.50,101.02 L190.50,100.16 L191.50,99.32 L192.50,98.49 L193.50,97.68 L194.50,96.89 L195.50,96.12 L196.50,95.36 L197.50,94.62 L198.50,93.90 L199.50,93.19 L200.50,92.50 L201.50,91.82 L202.50,91.17 L203.50,90.52 L204.50,89.90 L205.50,89.28 L206.50,88.69 L207.50,88.11 L208.50,87.54 L209.50,86.99 L210.50,86.46 L211.50,85.94 L212.50,85.44 L213.50,84.95 L214.50,84.47 L215.50,84.01 L216.50,83.57 L217.50,83.14 L218.50,82.72 L219.50,82.32 L220.50,81.93 L221.50,81.56 L222.50,81.20 L223.50,80.85 L224.50,80.52 L225.50,80.20 L226.50,79.90 L227.50,79.60 L228.50,79.32 L229.50,79.06 L230.50,78.81 L231.50,78.57 L232.50,78.34 L233.50,78.12 L234.50,77.92 L235.50,77.73 L236.50,77.56 L237.50,77.39 L238.50,77.24 L239.50,77.10 L240.50,76.97 L241.50,76.85 L242.50,76.80 L243.50,76.80 L244.50,76.80 L245.50,76.80 L246.50,76.80 L247.50,76.80 L248.50,76.80 L249.50,76.80 L250.50,76.80 L251.50,76.80 L252.50,76.80 L253.50,76.80 L254.50,76.80 L255.50,76.80 L256.50,76.80 L257.50,76.80 L258.50,76.80 L259.50,76.80 L260.50,76.80 L261.50,76.83 L262.50,76.93 L263.50,77.05 L264.50,77.17 L265.00,77.24" fill="none" stroke="#f76aa0" stroke-width="1.10" stroke-linejoin="round" stroke-linecap="round" />
<text x="195.40" y="73.50" font-size="6.50" text-anchor="start" font-weight="normal" fill="#111" stroke="#111" stroke-width="0.10" >Onset shift</text>
<line x1="195.50" y1="75.80" x2="237.00" y2="75.80" stroke="#111" stroke-width="0.80" />
<path d="M240.5,75.8 L236.5,74 L236.5,77.6 Z" fill="#111"/>
<rect x="303.90" y="7.60" width="238.30" height="161.70" fill="none" stroke="#606060" stroke-width="1.10"/>
<line x1="301.40" y1="7.60" x2="303.90" y2="7.60" stroke="#606060" stroke-width="1.00" />
<text x="299.70" y="11.10" font-size="8.50" text-anchor="end" font-weight="normal" fill="#333" stroke="#333" stroke-width="0.22" >0.2</text>
<line x1="302.40" y1="16.58" x2="303.90" y2="16.58" stroke="#606060" stroke-width="1.00" />
<line x1="301.40" y1="25.57" x2="303.90" y2="25.57" stroke="#606060" stroke-width="1.00" />
<text x="299.70" y="29.07" font-size="8.50" text-anchor="end" font-weight="normal" fill="#333" stroke="#333" stroke-width="0.22" >0.0</text>
<line x1="302.40" y1="34.55" x2="303.90" y2="34.55" stroke="#606060" stroke-width="1.00" />
<line x1="301.40" y1="43.53" x2="303.90" y2="43.53" stroke="#606060" stroke-width="1.00" />
<text x="299.70" y="47.03" font-size="8.50" text-anchor="end" font-weight="normal" fill="#333" stroke="#333" stroke-width="0.22" >-0.2</text>
<line x1="302.40" y1="52.52" x2="303.90" y2="52.52" stroke="#606060" stroke-width="1.00" />
<line x1="301.40" y1="61.50" x2="303.90" y2="61.50" stroke="#606060" stroke-width="1.00" />
<text x="299.70" y="65.00" font-size="8.50" text-anchor="end" font-weight="normal" fill="#333" stroke="#333" stroke-width="0.22" >-0.4</text>
<line x1="302.40" y1="70.48" x2="303.90" y2="70.48" stroke="#606060" stroke-width="1.00" />
<line x1="301.40" y1="79.47" x2="303.90" y2="79.47" stroke="#606060" stroke-width="1.00" />
<text x="299.70" y="82.97" font-size="8.50" text-anchor="end" font-weight="normal" fill="#333" stroke="#333" stroke-width="0.22" >-0.6</text>
<line x1="302.40" y1="88.45" x2="303.90" y2="88.45" stroke="#606060" stroke-width="1.00" />
<line x1="301.40" y1="97.43" x2="303.90" y2="97.43" stroke="#606060" stroke-width="1.00" />
<text x="299.70" y="100.93" font-size="8.50" text-anchor="end" font-weight="normal" fill="#333" stroke="#333" stroke-width="0.22" >-0.8</text>
<line x1="302.40" y1="106.42" x2="303.90" y2="106.42" stroke="#606060" stroke-width="1.00" />
<line x1="301.40" y1="115.40" x2="303.90" y2="115.40" stroke="#606060" stroke-width="1.00" />
<text x="299.70" y="118.90" font-size="8.50" text-anchor="end" font-weight="normal" fill="#333" stroke="#333" stroke-width="0.22" >-1.0</text>
<line x1="302.40" y1="124.38" x2="303.90" y2="124.38" stroke="#606060" stroke-width="1.00" />
<line x1="301.40" y1="133.37" x2="303.90" y2="133.37" stroke="#606060" stroke-width="1.00" />
<text x="299.70" y="136.87" font-size="8.50" text-anchor="end" font-weight="normal" fill="#333" stroke="#333" stroke-width="0.22" >-1.2</text>
<line x1="302.40" y1="142.35" x2="303.90" y2="142.35" stroke="#606060" stroke-width="1.00" />
<line x1="301.40" y1="151.33" x2="303.90" y2="151.33" stroke="#606060" stroke-width="1.00" />
<text x="299.70" y="154.83" font-size="8.50" text-anchor="end" font-weight="normal" fill="#333" stroke="#333" stroke-width="0.22" >-1.4</text>
<line x1="302.40" y1="160.32" x2="303.90" y2="160.32" stroke="#606060" stroke-width="1.00" />
<line x1="301.40" y1="169.30" x2="303.90" y2="169.30" stroke="#606060" stroke-width="1.00" />
<text x="299.70" y="172.80" font-size="8.50" text-anchor="end" font-weight="normal" fill="#333" stroke="#333" stroke-width="0.22" >-1.6</text>
<line x1="303.90" y1="169.30" x2="303.90" y2="171.80" stroke="#606060" stroke-width="1.00" />
<text x="303.90" y="180.30" font-size="8.50" text-anchor="middle" font-weight="normal" fill="#333" stroke="#333" stroke-width="0.22" >1.6</text>
<line x1="320.92" y1="169.30" x2="320.92" y2="170.80" stroke="#606060" stroke-width="1.00" />
<line x1="337.94" y1="169.30" x2="337.94" y2="171.80" stroke="#606060" stroke-width="1.00" />
<text x="337.94" y="180.30" font-size="8.50" text-anchor="middle" font-weight="normal" fill="#333" stroke="#333" stroke-width="0.22" >1.8</text>
<line x1="354.96" y1="169.30" x2="354.96" y2="170.80" stroke="#606060" stroke-width="1.00" />
<line x1="371.99" y1="169.30" x2="371.99" y2="171.80" stroke="#606060" stroke-width="1.00" />
<text x="371.99" y="180.30" font-size="8.50" text-anchor="middle" font-weight="normal" fill="#333" stroke="#333" stroke-width="0.22" >2.0</text>
<line x1="389.01" y1="169.30" x2="389.01" y2="170.80" stroke="#606060" stroke-width="1.00" />
<line x1="406.03" y1="169.30" x2="406.03" y2="171.80" stroke="#606060" stroke-width="1.00" />
<text x="406.03" y="180.30" font-size="8.50" text-anchor="middle" font-weight="normal" fill="#333" stroke="#333" stroke-width="0.22" >2.2</text>
<line x1="423.05" y1="169.30" x2="423.05" y2="170.80" stroke="#606060" stroke-width="1.00" />
<line x1="440.07" y1="169.30" x2="440.07" y2="171.80" stroke="#606060" stroke-width="1.00" />
<text x="440.07" y="180.30" font-size="8.50" text-anchor="middle" font-weight="normal" fill="#333" stroke="#333" stroke-width="0.22" >2.4</text>
<line x1="457.09" y1="169.30" x2="457.09" y2="170.80" stroke="#606060" stroke-width="1.00" />
<line x1="474.11" y1="169.30" x2="474.11" y2="171.80" stroke="#606060" stroke-width="1.00" />
<text x="474.11" y="180.30" font-size="8.50" text-anchor="middle" font-weight="normal" fill="#333" stroke="#333" stroke-width="0.22" >2.6</text>
<line x1="491.14" y1="169.30" x2="491.14" y2="170.80" stroke="#606060" stroke-width="1.00" />
<line x1="508.16" y1="169.30" x2="508.16" y2="171.80" stroke="#606060" stroke-width="1.00" />
<text x="508.16" y="180.30" font-size="8.50" text-anchor="middle" font-weight="normal" fill="#333" stroke="#333" stroke-width="0.22" >2.8</text>
<line x1="525.18" y1="169.30" x2="525.18" y2="170.80" stroke="#606060" stroke-width="1.00" />
<line x1="542.20" y1="169.30" x2="542.20" y2="171.80" stroke="#606060" stroke-width="1.00" />
<text x="542.20" y="180.30" font-size="8.50" text-anchor="middle" font-weight="normal" fill="#333" stroke="#333" stroke-width="0.22" >3.0</text>
<line x1="309.90" y1="24.67" x2="542.20" y2="24.67" stroke="#9a9a9a" stroke-width="0.80" stroke-dasharray="2,2"/>
<line x1="309.90" y1="153.13" x2="542.20" y2="153.13" stroke="#bdbdbd" stroke-width="0.80" stroke-dasharray="2,2"/>
<text x="312.10" y="22.07" font-size="6.80" text-anchor="start" font-weight="normal" fill="#7a7a7a" stroke="#7a7a7a" stroke-width="0.22" >Inert atmosphere</text>
<text x="537.60" y="163.13" font-size="6.45" text-anchor="end" font-weight="normal" fill="#7d7d7d" stroke="#7d7d7d" stroke-width="0.22" >Theoretical limiting current density</text>
<text x="529.30" y="20.70" font-size="13.00" text-anchor="start" font-weight="bold" fill="#111" stroke="#111" stroke-width="0.22" >b</text>
<text x="424.05" y="191.80" font-size="9.00" text-anchor="middle" font-weight="bold" fill="#222" stroke="#222" stroke-width="0.22" ><tspan font-style="italic">E</tspan> (V <tspan font-style="italic">vs.</tspan> Li/Li<tspan dy="-3" font-size="5.5">+</tspan><tspan dy="3">)</tspan></text>
<g transform="translate(281.00,82.50) rotate(-90)">
<text x="0.00" y="0.00" font-size="9.40" text-anchor="middle" font-weight="bold" fill="#222" stroke="#222" stroke-width="0.22" ><tspan font-style="italic">j</tspan> (mA cm<tspan dy="-3.2" font-size="5.8">-2</tspan><tspan dy="3.2">)</tspan></text>
</g>
<path d="M310.90,27.45 L311.90,27.49 L312.90,27.53 L313.90,27.59 L314.90,27.64 L315.90,27.71 L316.90,27.78 L317.90,27.86 L318.90,27.95 L319.90,28.04 L320.90,28.14 L321.90,28.25 L322.90,28.37 L323.90,28.49 L324.90,28.61 L325.90,28.75 L326.90,28.88 L327.90,29.03 L328.90,29.18 L329.90,29.34 L330.90,29.51 L331.90,29.68 L332.90,29.85 L333.90,30.03 L334.90,30.22 L335.90,30.42 L336.90,30.62 L337.90,30.82 L338.90,31.03 L339.90,31.25 L340.90,31.47 L341.90,31.70 L342.90,31.93 L343.90,32.17 L344.90,32.42 L345.90,32.66 L346.90,32.91 L347.90,33.17 L348.90,33.43 L349.90,33.68 L350.90,33.95 L351.90,34.21 L352.90,34.47 L353.90,34.74 L354.90,35.00 L355.90,35.26 L356.90,35.52 L357.90,35.79 L358.90,36.04 L359.90,36.30 L360.90,36.55 L361.90,36.80 L362.90,37.05 L363.90,37.29 L364.90,37.53 L365.90,37.76 L366.90,37.99 L367.90,38.20 L368.90,38.42 L369.90,38.62 L370.90,38.82 L371.90,39.01 L372.90,39.19 L373.90,39.36 L374.90,39.53 L375.90,39.68 L376.90,39.82 L377.90,39.95 L378.90,40.07 L379.90,40.18 L380.90,40.27 L381.90,40.35 L382.90,40.42 L383.90,40.47 L384.90,40.51 L385.90,40.54 L386.90,40.55 L387.90,40.54 L388.90,40.52 L389.90,40.48 L390.90,40.43 L391.90,40.36 L392.90,40.28 L393.90,40.18 L394.90,40.06 L395.90,39.94 L396.90,39.80 L397.90,39.64 L398.90,39.48 L399.90,39.30 L400.90,39.11 L401.90,38.91 L402.90,38.70 L403.90,38.47 L404.90,38.24 L405.90,37.99 L406.90,37.74 L407.90,37.48 L408.90,37.20 L409.90,36.92 L410.90,36.63 L411.90,36.34 L412.90,36.03 L413.90,35.73 L414.90,35.41 L415.90,35.10 L416.90,34.78 L417.90,34.46 L418.90,34.13 L419.90,33.81 L420.90,33.49 L421.90,33.17 L422.90,32.86 L423.90,32.54 L424.90,32.24 L425.90,31.93 L426.90,31.64 L427.90,31.35 L428.90,31.07 L429.90,30.80 L430.90,30.54 L431.90,30.29 L432.90,30.04 L433.90,29.81 L434.90,29.59 L435.90,29.37 L436.90,29.16 L437.90,28.97 L438.90,28.78 L439.90,28.59 L440.90,28.42 L441.90,28.25 L442.90,28.09 L443.90,27.94 L444.90,27.79 L445.90,27.65 L446.90,27.52 L447.90,27.39 L448.90,27.27 L449.90,27.16 L450.90,27.05 L451.90,26.95 L452.90,26.85 L453.90,26.76 L454.90,26.67 L455.90,26.59 L456.90,26.51 L457.90,26.44 L458.90,26.37 L459.90,26.30 L460.90,26.24 L461.90,26.19 L462.90,26.13 L463.90,26.08 L464.90,26.03 L465.90,25.99 L466.90,25.95 L467.90,25.91 L468.90,25.90 L469.90,25.90 L470.90,25.90 L471.90,25.90 L472.90,25.90 L473.90,25.90 L474.90,25.90 L475.90,25.90 L476.90,25.90 L477.90,25.90 L478.90,25.90 L479.90,25.90 L480.90,25.90 L481.90,25.90 L482.90,25.90 L483.90,25.90 L484.90,25.90 L485.90,25.90 L486.90,25.90 L487.90,25.90 L488.90,25.90 L489.90,25.90 L490.90,25.90 L491.90,25.90 L492.90,25.90 L493.90,25.90 L494.90,25.90 L495.90,25.90 L496.90,25.90 L497.90,25.90 L498.90,25.90 L499.90,25.90 L500.90,25.90 L501.90,25.90 L502.90,25.90 L503.90,25.91 L504.90,25.93 L505.90,25.94 L506.90,25.96 L507.90,25.97 L508.90,25.99 L509.90,26.01 L510.90,26.02 L511.90,26.03 L512.90,26.05 L513.90,26.06 L514.90,26.07 L515.90,26.08 L516.90,26.09 L517.90,26.10 L518.90,26.10 L519.90,26.11 L520.90,26.11 L521.90,26.11 L522.90,26.11 L523.90,26.11 L524.90,26.10 L525.90,26.10 L526.90,26.09 L527.90,26.08 L528.90,26.07 L529.90,26.05 L530.90,26.04 L531.90,26.02 L532.90,26.00 L533.90,25.97 L534.90,25.94 L535.90,25.91 L536.90,25.90 L537.90,25.90 L538.90,25.90 L539.90,25.90 L540.90,25.90 L541.90,25.90 L542.00,25.90" fill="none" stroke="#4d4d4d" stroke-width="1.30" stroke-linejoin="round" stroke-linecap="round" />
<path d="M309.90,155.85 L310.90,156.09 L311.90,156.31 L312.90,156.50 L313.90,156.65 L314.90,156.79 L315.90,156.89 L316.90,156.96 L317.90,157.01 L318.90,157.04 L319.90,157.03 L320.90,157.00 L321.90,156.94 L322.90,156.86 L323.90,156.75 L324.90,156.62 L325.90,156.46 L326.90,156.27 L327.90,156.06 L328.90,155.83 L329.90,155.57 L330.90,155.29 L331.90,154.99 L332.90,154.66 L333.90,154.31 L334.90,153.93 L335.90,153.54 L336.90,153.12 L337.90,152.67 L338.90,152.21 L339.90,151.73 L340.90,151.22 L341.90,150.69 L342.90,150.14 L343.90,149.57 L344.90,148.98 L345.90,148.37 L346.90,147.74 L347.90,147.09 L348.90,146.42 L349.90,145.73 L350.90,145.02 L351.90,144.30 L352.90,143.55 L353.90,142.79 L354.90,142.01 L355.90,141.21 L356.90,140.39 L357.90,139.55 L358.90,138.70 L359.90,137.84 L360.90,136.95 L361.90,136.05 L362.90,135.13 L363.90,134.20 L364.90,133.25 L365.90,132.29 L366.90,131.31 L367.90,130.32 L368.90,129.31 L369.90,128.29 L370.90,127.25 L371.90,126.20 L372.90,125.14 L373.90,124.06 L374.90,122.97 L375.90,121.86 L376.90,120.75 L377.90,119.62 L378.90,118.48 L379.90,117.33 L380.90,116.16 L381.90,114.99 L382.90,113.80 L383.90,112.61 L384.90,111.40 L385.90,110.18 L386.90,108.95 L387.90,107.71 L388.90,106.46 L389.90,105.21 L390.90,103.94 L391.90,102.66 L392.90,101.38 L393.90,100.09 L394.90,98.79 L395.90,97.48 L396.90,96.16 L397.90,94.84 L398.90,93.51 L399.90,92.17 L400.90,90.82 L401.90,89.47 L402.90,88.12 L403.90,86.76 L404.90,85.41 L405.90,84.07 L406.90,82.75 L407.90,81.46 L408.90,80.20 L409.90,78.98 L410.90,77.80 L411.90,76.65 L412.90,75.54 L413.90,74.46 L414.90,73.39 L415.90,72.33 L416.90,71.27 L417.90,70.21 L418.90,69.15 L419.90,68.08 L420.90,67.01 L421.90,65.94 L422.90,64.86 L423.90,63.78 L424.90,62.71 L425.90,61.63 L426.90,60.55 L427.90,59.47 L428.90,58.39 L429.90,57.32 L430.90,56.26 L431.90,55.20 L432.90,54.15 L433.90,53.12 L434.90,52.09 L435.90,51.08 L436.90,50.08 L437.90,49.09 L438.90,48.13 L439.90,47.18 L440.90,46.25 L441.90,45.35 L442.90,44.47 L443.90,43.61 L444.90,42.78 L445.90,41.97 L446.90,41.18 L447.90,40.43 L448.90,39.69 L449.90,38.98 L450.90,38.30 L451.90,37.63 L452.90,36.99 L453.90,36.37 L454.90,35.78 L455.90,35.20 L456.90,34.65 L457.90,34.11 L458.90,33.60 L459.90,33.11 L460.90,32.63 L461.90,32.18 L462.90,31.75 L463.90,31.33 L464.90,30.93 L465.90,30.55 L466.90,30.19 L467.90,29.84 L468.90,29.52 L469.90,29.20 L470.90,28.91 L471.90,28.63 L472.90,28.36 L473.90,28.11 L474.90,27.87 L475.90,27.65 L476.90,27.44 L477.90,27.25 L478.90,27.07 L479.90,26.90 L480.90,26.74 L481.90,26.60 L482.90,26.46 L483.90,26.34 L484.90,26.23 L485.90,26.13 L486.90,26.03 L487.90,25.95 L488.90,25.90 L489.90,25.90 L490.90,25.90 L491.90,25.90 L492.90,25.90 L493.90,25.90 L494.90,25.90 L495.90,25.90 L496.90,25.90 L497.90,25.90 L498.90,25.90 L499.90,25.90 L500.90,25.90 L501.90,25.90 L502.90,25.90 L503.90,25.90 L504.90,25.90 L505.90,25.90 L506.90,25.90 L507.90,25.90 L508.90,25.90 L509.90,25.90 L510.90,25.90 L511.90,25.91 L512.90,25.95 L513.90,25.99 L514.90,26.02 L515.90,26.06 L516.90,26.09 L517.90,26.13 L518.90,26.16 L519.90,26.19 L520.90,26.22 L521.90,26.24 L522.90,26.26 L523.90,26.28 L524.90,26.29 L525.90,26.30 L526.90,26.30 L527.90,26.30 L528.90,26.29 L529.90,26.28 L530.90,26.26 L531.90,26.23 L532.90,26.19 L533.90,26.15 L534.90,26.10 L535.90,26.04 L536.90,25.98 L537.90,25.90 L538.90,25.90 L539.90,25.90 L540.90,25.90 L541.90,25.90 L542.00,25.90" fill="none" stroke="#aa4cf2" stroke-width="1.30" stroke-linejoin="round" stroke-linecap="round" />
<path d="M311.90,100.53 L312.90,101.32 L313.90,102.04 L314.90,102.70 L315.90,103.31 L316.90,103.86 L317.90,104.36 L318.90,104.82 L319.90,105.22 L320.90,105.59 L321.90,105.91 L322.90,106.19 L323.90,106.43 L324.90,106.64 L325.90,106.82 L326.90,106.96 L327.90,107.08 L328.90,107.17 L329.90,107.24 L330.90,107.29 L331.90,107.32 L332.90,107.33 L333.90,107.33 L334.90,107.31 L335.90,107.29 L336.90,107.26 L337.90,107.23 L338.90,107.19 L339.90,107.16 L340.90,107.12 L341.90,107.09 L342.90,107.07 L343.90,107.06 L344.90,107.06 L345.90,107.06 L346.90,107.08 L347.90,107.10 L348.90,107.13 L349.90,107.16 L350.90,107.21 L351.90,107.25 L352.90,107.30 L353.90,107.36 L354.90,107.42 L355.90,107.48 L356.90,107.54 L357.90,107.61 L358.90,107.67 L359.90,107.74 L360.90,107.80 L361.90,107.86 L362.90,107.92 L363.90,107.97 L364.90,108.01 L365.90,108.04 L366.90,108.06 L367.90,108.05 L368.90,108.03 L369.90,107.99 L370.90,107.92 L371.90,107.82 L372.90,107.70 L373.90,107.54 L374.90,107.35 L375.90,107.12 L376.90,106.85 L377.90,106.54 L378.90,106.18 L379.90,105.78 L380.90,105.33 L381.90,104.82 L382.90,104.27 L383.90,103.65 L384.90,102.98 L385.90,102.24 L386.90,101.45 L387.90,100.58 L388.90,99.65 L389.90,98.64 L390.90,97.57 L391.90,96.43 L392.90,95.24 L393.90,94.01 L394.90,92.73 L395.90,91.43 L396.90,90.10 L397.90,88.75 L398.90,87.39 L399.90,86.02 L400.90,84.64 L401.90,83.26 L402.90,81.89 L403.90,80.52 L404.90,79.18 L405.90,77.85 L406.90,76.54 L407.90,75.26 L408.90,74.00 L409.90,72.76 L410.90,71.54 L411.90,70.33 L412.90,69.14 L413.90,67.96 L414.90,66.79 L415.90,65.63 L416.90,64.48 L417.90,63.35 L418.90,62.24 L419.90,61.15 L420.90,60.10 L421.90,59.08 L422.90,58.09 L423.90,57.12 L424.90,56.17 L425.90,55.23 L426.90,54.30 L427.90,53.38 L428.90,52.46 L429.90,51.55 L430.90,50.65 L431.90,49.76 L432.90,48.88 L433.90,48.01 L434.90,47.15 L435.90,46.30 L436.90,45.47 L437.90,44.64 L438.90,43.83 L439.90,43.04 L440.90,42.26 L441.90,41.49 L442.90,40.75 L443.90,40.02 L444.90,39.30 L445.90,38.61 L446.90,37.94 L447.90,37.28 L448.90,36.65 L449.90,36.03 L450.90,35.44 L451.90,34.88 L452.90,34.33 L453.90,33.80 L454.90,33.30 L455.90,32.81 L456.90,32.34 L457.90,31.90 L458.90,31.47 L459.90,31.06 L460.90,30.67 L461.90,30.30 L462.90,29.95 L463.90,29.61 L464.90,29.29 L465.90,28.99 L466.90,28.70 L467.90,28.43 L468.90,28.18 L469.90,27.94 L470.90,27.71 L471.90,27.50 L472.90,27.30 L473.90,27.12 L474.90,26.95 L475.90,26.79 L476.90,26.65 L477.90,26.52 L478.90,26.40 L479.90,26.29 L480.90,26.19 L481.90,26.11 L482.90,26.03 L483.90,25.96 L484.90,25.90 L485.90,25.90 L486.90,25.90 L487.90,25.90 L488.90,25.90 L489.90,25.90 L490.90,25.90 L491.90,25.90 L492.90,25.90 L493.90,25.90 L494.90,25.90 L495.90,25.90 L496.90,25.90 L497.90,25.90 L498.90,25.90 L499.90,25.90 L500.90,25.90 L501.90,25.90 L502.90,25.90 L503.90,25.90 L504.90,25.91 L505.90,25.94 L506.90,25.96 L507.90,25.98 L508.90,26.00 L509.90,26.02 L510.90,26.03 L511.90,26.04 L512.90,26.04 L513.90,26.05 L514.90,26.04 L515.90,26.04 L516.90,26.03 L517.90,26.02 L518.90,26.00 L519.90,25.99 L520.90,25.97 L521.90,25.96 L522.90,25.94 L523.90,25.92 L524.90,25.90 L525.90,25.90 L526.90,25.90 L527.90,25.90 L528.90,25.90 L529.90,25.90 L530.90,25.90 L531.90,25.90 L532.90,25.90 L533.90,25.90 L534.90,25.90 L535.90,25.90 L536.90,25.90 L537.90,25.90 L538.90,25.90 L539.90,25.90 L540.90,25.91 L541.90,25.94 L542.00,25.95" fill="none" stroke="#22dede" stroke-width="1.30" stroke-linejoin="round" stroke-linecap="round" />
<path d="M310.90,25.90 L311.90,27.54 L312.90,29.44 L313.90,31.40 L314.90,33.40 L315.90,35.44 L316.90,37.51 L317.90,39.60 L318.90,41.71 L319.90,43.83 L320.90,45.95 L321.90,48.07 L322.90,50.18 L323.90,52.27 L324.90,54.34 L325.90,56.37 L326.90,58.37 L327.90,60.32 L328.90,62.22 L329.90,64.06 L330.90,65.83 L331.90,67.53 L332.90,69.14 L333.90,70.68 L334.90,72.13 L335.90,73.50 L336.90,74.80 L337.90,76.02 L338.90,77.17 L339.90,78.24 L340.90,79.25 L341.90,80.19 L342.90,81.07 L343.90,81.89 L344.90,82.64 L345.90,83.34 L346.90,83.99 L347.90,84.58 L348.90,85.12 L349.90,85.62 L350.90,86.06 L351.90,86.45 L352.90,86.80 L353.90,87.11 L354.90,87.36 L355.90,87.58 L356.90,87.75 L357.90,87.89 L358.90,87.98 L359.90,88.04 L360.90,88.06 L361.90,88.04 L362.90,87.99 L363.90,87.91 L364.90,87.79 L365.90,87.65 L366.90,87.47 L367.90,87.26 L368.90,87.03 L369.90,86.78 L370.90,86.49 L371.90,86.19 L372.90,85.86 L373.90,85.51 L374.90,85.14 L375.90,84.75 L376.90,84.35 L377.90,83.92 L378.90,83.49 L379.90,83.04 L380.90,82.57 L381.90,82.10 L382.90,81.62 L383.90,81.12 L384.90,80.62 L385.90,80.11 L386.90,79.60 L387.90,79.08 L388.90,78.56 L389.90,78.04 L390.90,77.52 L391.90,77.00 L392.90,76.48 L393.90,75.96 L394.90,75.45 L395.90,74.94 L396.90,74.44 L397.90,73.94 L398.90,73.44 L399.90,72.95 L400.90,72.45 L401.90,71.95 L402.90,71.45 L403.90,70.95 L404.90,70.44 L405.90,69.92 L406.90,69.40 L407.90,68.86 L408.90,68.32 L409.90,67.76 L410.90,67.19 L411.90,66.61 L412.90,66.02 L413.90,65.40 L414.90,64.77 L415.90,64.12 L416.90,63.45 L417.90,62.76 L418.90,62.04 L419.90,61.30 L420.90,60.54 L421.90,59.75 L422.90,58.95 L423.90,58.12 L424.90,57.28 L425.90,56.43 L426.90,55.57 L427.90,54.70 L428.90,53.82 L429.90,52.94 L430.90,52.06 L431.90,51.18 L432.90,50.31 L433.90,49.45 L434.90,48.59 L435.90,47.75 L436.90,46.92 L437.90,46.11 L438.90,45.32 L439.90,44.55 L440.90,43.80 L441.90,43.07 L442.90,42.36 L443.90,41.66 L444.90,40.99 L445.90,40.33 L446.90,39.70 L447.90,39.08 L448.90,38.48 L449.90,37.89 L450.90,37.33 L451.90,36.78 L452.90,36.24 L453.90,35.73 L454.90,35.23 L455.90,34.74 L456.90,34.28 L457.90,33.82 L458.90,33.39 L459.90,32.96 L460.90,32.56 L461.90,32.16 L462.90,31.79 L463.90,31.42 L464.90,31.07 L465.90,30.73 L466.90,30.41 L467.90,30.10 L468.90,29.80 L469.90,29.52 L470.90,29.25 L471.90,28.98 L472.90,28.74 L473.90,28.50 L474.90,28.27 L475.90,28.06 L476.90,27.85 L477.90,27.66 L478.90,27.48 L479.90,27.30 L480.90,27.14 L481.90,26.99 L482.90,26.84 L483.90,26.71 L484.90,26.58 L485.90,26.46 L486.90,26.36 L487.90,26.25 L488.90,26.16 L489.90,26.07 L490.90,26.00 L491.90,25.93 L492.90,25.90 L493.90,25.90 L494.90,25.90 L495.90,25.90 L496.90,25.90 L497.90,25.90 L498.90,25.90 L499.90,25.90 L500.90,25.90 L501.90,25.90 L502.90,25.90 L503.90,25.90 L504.90,25.90 L505.90,25.90 L506.90,25.90 L507.90,25.90 L508.90,25.90 L509.90,25.90 L510.90,25.90 L511.90,25.90 L512.90,25.90 L513.90,25.90 L514.90,25.90 L515.90,25.90 L516.90,25.90 L517.90,25.90 L518.90,25.90 L519.90,25.90 L520.90,25.90 L521.90,25.90 L522.90,25.90 L523.90,25.91 L524.90,25.94 L525.90,25.96 L526.90,25.98 L527.90,26.00 L528.90,26.02 L529.90,26.03 L530.90,26.04 L531.90,26.05 L532.90,26.06 L533.90,26.06 L534.90,26.06 L535.90,26.06 L536.90,26.05 L537.90,26.04 L538.90,26.02 L539.90,26.00 L540.90,25.97 L541.90,25.94 L542.00,25.93" fill="none" stroke="#4848f0" stroke-width="1.30" stroke-linejoin="round" stroke-linecap="round" />
<line x1="309.30" y1="114.80" x2="321.80" y2="114.80" stroke="#7a7a7a" stroke-width="1.70" />
<text x="323.80" y="117.10" font-size="6.45" text-anchor="start" font-weight="normal" fill="#383838" stroke="#383838" stroke-width="0.05" >GCE bare</text>
<line x1="309.30" y1="122.50" x2="321.80" y2="122.50" stroke="#c78af5" stroke-width="1.70" />
<text x="323.80" y="124.80" font-size="6.45" text-anchor="start" font-weight="normal" fill="#383838" stroke="#383838" stroke-width="0.05" >MnO<tspan dy="1.5" font-size="4.2">2</tspan></text>
<line x1="309.30" y1="130.50" x2="321.80" y2="130.50" stroke="#5ae4e4" stroke-width="1.70" />
<text x="323.80" y="132.80" font-size="6.45" text-anchor="start" font-weight="normal" fill="#383838" stroke="#383838" stroke-width="0.05" >2Fe_MnO<tspan dy="1.5" font-size="4.2">2</tspan></text>
<line x1="309.30" y1="138.70" x2="321.80" y2="138.70" stroke="#7c7cf2" stroke-width="1.70" />
<text x="323.80" y="141.00" font-size="6.45" text-anchor="start" font-weight="normal" fill="#383838" stroke="#383838" stroke-width="0.05" >5Fe_MnO<tspan dy="1.5" font-size="4.2">2</tspan></text>
<rect x="429.80" y="67.50" width="106.40" height="71.50" fill="#fff" stroke="#8c8c8c" stroke-width="0.8"/>
<line x1="429.80" y1="76.44" x2="536.20" y2="76.44" stroke="#d8d8d8" stroke-width="0.60" />
<line x1="428.30" y1="67.50" x2="429.80" y2="67.50" stroke="#777" stroke-width="0.60" />
<text x="428.20" y="69.20" font-size="4.70" text-anchor="end" font-weight="normal" fill="#444" stroke="#444" stroke-width="0.10" >0.1</text>
<line x1="428.30" y1="76.44" x2="429.80" y2="76.44" stroke="#777" stroke-width="0.60" />
<text x="428.20" y="78.14" font-size="4.70" text-anchor="end" font-weight="normal" fill="#444" stroke="#444" stroke-width="0.10" >0.0</text>
<line x1="428.30" y1="85.38" x2="429.80" y2="85.38" stroke="#777" stroke-width="0.60" />
<text x="428.20" y="87.08" font-size="4.70" text-anchor="end" font-weight="normal" fill="#444" stroke="#444" stroke-width="0.10" >-0.1</text>
<line x1="428.30" y1="94.31" x2="429.80" y2="94.31" stroke="#777" stroke-width="0.60" />
<text x="428.20" y="96.01" font-size="4.70" text-anchor="end" font-weight="normal" fill="#444" stroke="#444" stroke-width="0.10" >-0.2</text>
<line x1="428.30" y1="103.25" x2="429.80" y2="103.25" stroke="#777" stroke-width="0.60" />
<text x="428.20" y="104.95" font-size="4.70" text-anchor="end" font-weight="normal" fill="#444" stroke="#444" stroke-width="0.10" >-0.3</text>
<line x1="428.30" y1="112.19" x2="429.80" y2="112.19" stroke="#777" stroke-width="0.60" />
<text x="428.20" y="113.89" font-size="4.70" text-anchor="end" font-weight="normal" fill="#444" stroke="#444" stroke-width="0.10" >-0.4</text>
<line x1="428.30" y1="121.12" x2="429.80" y2="121.12" stroke="#777" stroke-width="0.60" />
<text x="428.20" y="122.83" font-size="4.70" text-anchor="end" font-weight="normal" fill="#444" stroke="#444" stroke-width="0.10" >-0.5</text>
<line x1="428.30" y1="130.06" x2="429.80" y2="130.06" stroke="#777" stroke-width="0.60" />
<text x="428.20" y="131.76" font-size="4.70" text-anchor="end" font-weight="normal" fill="#444" stroke="#444" stroke-width="0.10" >-0.6</text>
<line x1="428.30" y1="139.00" x2="429.80" y2="139.00" stroke="#777" stroke-width="0.60" />
<text x="428.20" y="140.70" font-size="4.70" text-anchor="end" font-weight="normal" fill="#444" stroke="#444" stroke-width="0.10" >-0.7</text>
<line x1="429.80" y1="139.00" x2="429.80" y2="140.50" stroke="#777" stroke-width="0.60" />
<text x="429.80" y="144.60" font-size="4.70" text-anchor="middle" font-weight="normal" fill="#444" stroke="#444" stroke-width="0.10" >2.2</text>
<line x1="447.53" y1="139.00" x2="447.53" y2="140.50" stroke="#777" stroke-width="0.60" />
<text x="447.53" y="144.60" font-size="4.70" text-anchor="middle" font-weight="normal" fill="#444" stroke="#444" stroke-width="0.10" >2.3</text>
<line x1="465.27" y1="139.00" x2="465.27" y2="140.50" stroke="#777" stroke-width="0.60" />
<text x="465.27" y="144.60" font-size="4.70" text-anchor="middle" font-weight="normal" fill="#444" stroke="#444" stroke-width="0.10" >2.4</text>
<line x1="483.00" y1="139.00" x2="483.00" y2="140.50" stroke="#777" stroke-width="0.60" />
<text x="483.00" y="144.60" font-size="4.70" text-anchor="middle" font-weight="normal" fill="#444" stroke="#444" stroke-width="0.10" >2.5</text>
<line x1="500.73" y1="139.00" x2="500.73" y2="140.50" stroke="#777" stroke-width="0.60" />
<text x="500.73" y="144.60" font-size="4.70" text-anchor="middle" font-weight="normal" fill="#444" stroke="#444" stroke-width="0.10" >2.6</text>
<line x1="518.47" y1="139.00" x2="518.47" y2="140.50" stroke="#777" stroke-width="0.60" />
<text x="518.47" y="144.60" font-size="4.70" text-anchor="middle" font-weight="normal" fill="#444" stroke="#444" stroke-width="0.10" >2.7</text>
<line x1="536.20" y1="139.00" x2="536.20" y2="140.50" stroke="#777" stroke-width="0.60" />
<text x="536.20" y="144.60" font-size="4.70" text-anchor="middle" font-weight="normal" fill="#444" stroke="#444" stroke-width="0.10" >2.8</text>
<text x="482.50" y="150.00" font-size="4.75" text-anchor="middle" font-weight="bold" fill="#333" stroke="#333" stroke-width="0.08" ><tspan font-style="italic">E</tspan> (V vs. Li/Li<tspan dy="-1.6" font-size="3.2">+</tspan><tspan dy="1.6">)</tspan></text>
<g transform="translate(418.80,101.05) rotate(-90)">
<text x="0.00" y="0.00" font-size="4.75" text-anchor="middle" font-weight="bold" fill="#333" stroke="#333" stroke-width="0.08" ><tspan font-style="italic">j</tspan> (mA cm<tspan dy="-1.6" font-size="3.2">-2</tspan><tspan dy="1.6">)</tspan></text>
</g>
<path d="M429.80,89.66 L430.80,89.27 L431.80,88.89 L432.80,88.52 L433.80,88.15 L434.80,87.79 L435.80,87.44 L436.80,87.10 L437.80,86.76 L438.80,86.43 L439.80,86.11 L440.80,85.79 L441.80,85.48 L442.80,85.17 L443.80,84.88 L444.80,84.59 L445.80,84.30 L446.80,84.02 L447.80,83.75 L448.80,83.49 L449.80,83.23 L450.80,82.97 L451.80,82.72 L452.80,82.48 L453.80,82.25 L454.80,82.02 L455.80,81.79 L456.80,81.57 L457.80,81.36 L458.80,81.15 L459.80,80.95 L460.80,80.75 L461.80,80.56 L462.80,80.38 L463.80,80.19 L464.80,80.02 L465.80,79.85 L466.80,79.68 L467.80,79.52 L468.80,79.36 L469.80,79.21 L470.80,79.06 L471.80,78.92 L472.80,78.78 L473.80,78.65 L474.80,78.52 L475.80,78.39 L476.80,78.27 L477.80,78.16 L478.80,78.05 L479.80,77.94 L480.80,77.83 L481.80,77.73 L482.80,77.64 L483.80,77.54 L484.80,77.45 L485.80,77.37 L486.80,77.29 L487.80,77.21 L488.80,77.13 L489.80,77.06 L490.80,76.99 L491.80,76.93 L492.80,76.87 L493.80,76.81 L494.80,76.75 L495.80,76.70 L496.80,76.65 L497.80,76.60 L498.80,76.56 L499.80,76.52 L500.80,76.48 L501.80,76.44 L502.80,76.41 L503.80,76.38 L504.80,76.35 L505.80,76.32 L506.80,76.30 L507.80,76.28 L508.80,76.26 L509.80,76.24 L510.80,76.22 L511.80,76.21 L512.80,76.20 L513.80,76.20 L514.80,76.20 L515.80,76.20 L516.80,76.20 L517.80,76.20 L518.80,76.20 L519.80,76.20 L520.80,76.20 L521.80,76.20 L522.80,76.20 L523.80,76.20 L524.80,76.20 L525.80,76.20 L526.80,76.20 L527.80,76.20 L528.80,76.20 L529.80,76.20 L530.80,76.20 L531.80,76.21 L532.80,76.22 L533.80,76.23 L534.80,76.24 L535.80,76.25 L536.00,76.25" fill="none" stroke="#666" stroke-width="0.80" stroke-linejoin="round" stroke-linecap="round" />
<path d="M429.80,134.90 L430.80,134.04 L431.80,133.16 L432.80,132.26 L433.80,131.35 L434.80,130.42 L435.80,129.48 L436.80,128.52 L437.80,127.54 L438.80,126.55 L439.80,125.55 L440.80,124.53 L441.80,123.51 L442.80,122.46 L443.80,121.41 L444.80,120.35 L445.80,119.27 L446.80,118.19 L447.80,117.10 L448.80,116.00 L449.80,114.88 L450.80,113.77 L451.80,112.64 L452.80,111.51 L453.80,110.37 L454.80,109.22 L455.80,108.08 L456.80,106.92 L457.80,105.76 L458.80,104.60 L459.80,103.44 L460.80,102.28 L461.80,101.13 L462.80,99.99 L463.80,98.87 L464.80,97.78 L465.80,96.71 L466.80,95.67 L467.80,94.67 L468.80,93.70 L469.80,92.77 L470.80,91.87 L471.80,91.00 L472.80,90.17 L473.80,89.38 L474.80,88.62 L475.80,87.90 L476.80,87.22 L477.80,86.57 L478.80,85.96 L479.80,85.38 L480.80,84.83 L481.80,84.32 L482.80,83.83 L483.80,83.36 L484.80,82.92 L485.80,82.51 L486.80,82.11 L487.80,81.73 L488.80,81.36 L489.80,81.01 L490.80,80.67 L491.80,80.35 L492.80,80.04 L493.80,79.75 L494.80,79.47 L495.80,79.21 L496.80,78.96 L497.80,78.72 L498.80,78.49 L499.80,78.28 L500.80,78.07 L501.80,77.88 L502.80,77.70 L503.80,77.54 L504.80,77.38 L505.80,77.23 L506.80,77.10 L507.80,76.97 L508.80,76.85 L509.80,76.75 L510.80,76.65 L511.80,76.56 L512.80,76.48 L513.80,76.40 L514.80,76.34 L515.80,76.28 L516.80,76.23 L517.80,76.20 L518.80,76.20 L519.80,76.20 L520.80,76.20 L521.80,76.20 L522.80,76.20 L523.80,76.20 L524.80,76.20 L525.80,76.20 L526.80,76.20 L527.80,76.20 L528.80,76.20 L529.80,76.20 L530.80,76.20 L531.80,76.20 L532.80,76.20 L533.80,76.20 L534.80,76.23 L535.80,76.27 L536.00,76.27" fill="none" stroke="#d060f5" stroke-width="0.90" stroke-linejoin="round" stroke-linecap="round" />
<path d="M429.80,127.23 L430.80,126.24 L431.80,125.25 L432.80,124.24 L433.80,123.23 L434.80,122.22 L435.80,121.20 L436.80,120.17 L437.80,119.14 L438.80,118.11 L439.80,117.08 L440.80,116.05 L441.80,115.01 L442.80,113.98 L443.80,112.95 L444.80,111.92 L445.80,110.90 L446.80,109.88 L447.80,108.87 L448.80,107.86 L449.80,106.86 L450.80,105.87 L451.80,104.89 L452.80,103.92 L453.80,102.95 L454.80,102.00 L455.80,101.07 L456.80,100.14 L457.80,99.23 L458.80,98.33 L459.80,97.45 L460.80,96.58 L461.80,95.73 L462.80,94.89 L463.80,94.06 L464.80,93.25 L465.80,92.46 L466.80,91.68 L467.80,90.92 L468.80,90.17 L469.80,89.45 L470.80,88.74 L471.80,88.04 L472.80,87.37 L473.80,86.71 L474.80,86.07 L475.80,85.45 L476.80,84.85 L477.80,84.27 L478.80,83.71 L479.80,83.17 L480.80,82.65 L481.80,82.15 L482.80,81.67 L483.80,81.21 L484.80,80.77 L485.80,80.36 L486.80,79.97 L487.80,79.60 L488.80,79.25 L489.80,78.92 L490.80,78.62 L491.80,78.34 L492.80,78.07 L493.80,77.83 L494.80,77.60 L495.80,77.40 L496.80,77.21 L497.80,77.03 L498.80,76.88 L499.80,76.73 L500.80,76.61 L501.80,76.50 L502.80,76.40 L503.80,76.31 L504.80,76.23 L505.80,76.20 L506.80,76.20 L507.80,76.20 L508.80,76.20 L509.80,76.20 L510.80,76.20 L511.80,76.20 L512.80,76.20 L513.80,76.20 L514.80,76.20 L515.80,76.20 L516.80,76.20 L517.80,76.20 L518.80,76.20 L519.80,76.20 L520.80,76.20 L521.80,76.20 L522.80,76.20 L523.80,76.23 L524.80,76.25 L525.80,76.28 L526.80,76.30 L527.80,76.32 L528.80,76.34 L529.80,76.35 L530.80,76.35 L531.80,76.35 L532.80,76.35 L533.80,76.33 L534.80,76.31 L535.80,76.28 L536.00,76.28" fill="none" stroke="#22dede" stroke-width="0.90" stroke-linejoin="round" stroke-linecap="round" />
<path d="M429.80,119.47 L430.80,118.96 L431.80,118.43 L432.80,117.88 L433.80,117.32 L434.80,116.74 L435.80,116.14 L436.80,115.53 L437.80,114.90 L438.80,114.26 L439.80,113.61 L440.80,112.94 L441.80,112.27 L442.80,111.58 L443.80,110.88 L444.80,110.18 L445.80,109.46 L446.80,108.74 L447.80,108.01 L448.80,107.27 L449.80,106.53 L450.80,105.78 L451.80,105.03 L452.80,104.28 L453.80,103.52 L454.80,102.76 L455.80,102.00 L456.80,101.24 L457.80,100.48 L458.80,99.71 L459.80,98.96 L460.80,98.20 L461.80,97.44 L462.80,96.69 L463.80,95.95 L464.80,95.21 L465.80,94.47 L466.80,93.74 L467.80,93.02 L468.80,92.31 L469.80,91.60 L470.80,90.91 L471.80,90.22 L472.80,89.55 L473.80,88.89 L474.80,88.23 L475.80,87.60 L476.80,86.97 L477.80,86.36 L478.80,85.77 L479.80,85.19 L480.80,84.63 L481.80,84.08 L482.80,83.56 L483.80,83.05 L484.80,82.56 L485.80,82.09 L486.80,81.65 L487.80,81.22 L488.80,80.82 L489.80,80.43 L490.80,80.07 L491.80,79.73 L492.80,79.41 L493.80,79.11 L494.80,78.83 L495.80,78.56 L496.80,78.31 L497.80,78.08 L498.80,77.87 L499.80,77.67 L500.80,77.49 L501.80,77.32 L502.80,77.17 L503.80,77.03 L504.80,76.90 L505.80,76.79 L506.80,76.68 L507.80,76.59 L508.80,76.51 L509.80,76.44 L510.80,76.38 L511.80,76.33 L512.80,76.28 L513.80,76.25 L514.80,76.22 L515.80,76.20 L516.80,76.20 L517.80,76.20 L518.80,76.20 L519.80,76.20 L520.80,76.20 L521.80,76.20 L522.80,76.20 L523.80,76.20 L524.80,76.20 L525.80,76.21 L526.80,76.22 L527.80,76.24 L528.80,76.25 L529.80,76.26 L530.80,76.27 L531.80,76.27 L532.80,76.28 L533.80,76.28 L534.80,76.27 L535.80,76.26 L536.00,76.26" fill="none" stroke="#4848f0" stroke-width="0.90" stroke-linejoin="round" stroke-linecap="round" />
<text x="469.30" y="72.90" font-size="6.50" text-anchor="start" font-weight="normal" fill="#111" stroke="#111" stroke-width="0.10" >Onset shift</text>
<line x1="469.50" y1="74.40" x2="510.00" y2="74.40" stroke="#111" stroke-width="0.80" />
<path d="M513.5,74.4 L509.5,72.6 L509.5,76.2 Z" fill="#111"/>
<rect x="38.60" y="212.70" width="237.80" height="158.20" fill="none" stroke="#606060" stroke-width="1.10"/>
<line x1="36.10" y1="212.70" x2="38.60" y2="212.70" stroke="#606060" stroke-width="1.00" />
<text x="33.40" y="216.00" font-size="9.00" text-anchor="end" font-weight="normal" fill="#333" stroke="#333" stroke-width="0.22" >2.8</text>
<line x1="37.10" y1="224.00" x2="38.60" y2="224.00" stroke="#606060" stroke-width="1.00" />
<line x1="36.10" y1="235.30" x2="38.60" y2="235.30" stroke="#606060" stroke-width="1.00" />
<text x="33.40" y="238.60" font-size="9.00" text-anchor="end" font-weight="normal" fill="#333" stroke="#333" stroke-width="0.22" >2.7</text>
<line x1="37.10" y1="246.60" x2="38.60" y2="246.60" stroke="#606060" stroke-width="1.00" />
<line x1="36.10" y1="257.90" x2="38.60" y2="257.90" stroke="#606060" stroke-width="1.00" />
<text x="33.40" y="261.20" font-size="9.00" text-anchor="end" font-weight="normal" fill="#333" stroke="#333" stroke-width="0.22" >2.6</text>
<line x1="37.10" y1="269.20" x2="38.60" y2="269.20" stroke="#606060" stroke-width="1.00" />
<line x1="36.10" y1="280.50" x2="38.60" y2="280.50" stroke="#606060" stroke-width="1.00" />
<text x="33.40" y="283.80" font-size="9.00" text-anchor="end" font-weight="normal" fill="#333" stroke="#333" stroke-width="0.22" >2.5</text>
<line x1="37.10" y1="291.80" x2="38.60" y2="291.80" stroke="#606060" stroke-width="1.00" />
<line x1="36.10" y1="303.10" x2="38.60" y2="303.10" stroke="#606060" stroke-width="1.00" />
<text x="33.40" y="306.40" font-size="9.00" text-anchor="end" font-weight="normal" fill="#333" stroke="#333" stroke-width="0.22" >2.4</text>
<line x1="37.10" y1="314.40" x2="38.60" y2="314.40" stroke="#606060" stroke-width="1.00" />
<line x1="36.10" y1="325.70" x2="38.60" y2="325.70" stroke="#606060" stroke-width="1.00" />
<text x="33.40" y="329.00" font-size="9.00" text-anchor="end" font-weight="normal" fill="#333" stroke="#333" stroke-width="0.22" >2.3</text>
<line x1="37.10" y1="337.00" x2="38.60" y2="337.00" stroke="#606060" stroke-width="1.00" />
<line x1="36.10" y1="348.30" x2="38.60" y2="348.30" stroke="#606060" stroke-width="1.00" />
<text x="33.40" y="351.60" font-size="9.00" text-anchor="end" font-weight="normal" fill="#333" stroke="#333" stroke-width="0.22" >2.2</text>
<line x1="37.10" y1="359.60" x2="38.60" y2="359.60" stroke="#606060" stroke-width="1.00" />
<line x1="36.10" y1="370.90" x2="38.60" y2="370.90" stroke="#606060" stroke-width="1.00" />
<text x="33.40" y="374.20" font-size="9.00" text-anchor="end" font-weight="normal" fill="#333" stroke="#333" stroke-width="0.22" >2.1</text>
<line x1="38.60" y1="370.90" x2="38.60" y2="373.40" stroke="#606060" stroke-width="1.00" />
<text x="38.60" y="382.70" font-size="8.80" text-anchor="middle" font-weight="normal" fill="#333" stroke="#333" stroke-width="0.22" >-3.0</text>
<line x1="58.42" y1="370.90" x2="58.42" y2="372.40" stroke="#606060" stroke-width="1.00" />
<line x1="78.23" y1="370.90" x2="78.23" y2="373.40" stroke="#606060" stroke-width="1.00" />
<text x="78.23" y="382.70" font-size="8.80" text-anchor="middle" font-weight="normal" fill="#333" stroke="#333" stroke-width="0.22" >-2.5</text>
<line x1="98.05" y1="370.90" x2="98.05" y2="372.40" stroke="#606060" stroke-width="1.00" />
<line x1="117.87" y1="370.90" x2="117.87" y2="373.40" stroke="#606060" stroke-width="1.00" />
<text x="117.87" y="382.70" font-size="8.80" text-anchor="middle" font-weight="normal" fill="#333" stroke="#333" stroke-width="0.22" >-2.0</text>
<line x1="137.68" y1="370.90" x2="137.68" y2="372.40" stroke="#606060" stroke-width="1.00" />
<line x1="157.50" y1="370.90" x2="157.50" y2="373.40" stroke="#606060" stroke-width="1.00" />
<text x="157.50" y="382.70" font-size="8.80" text-anchor="middle" font-weight="normal" fill="#333" stroke="#333" stroke-width="0.22" >-1.5</text>
<line x1="177.32" y1="370.90" x2="177.32" y2="372.40" stroke="#606060" stroke-width="1.00" />
<line x1="197.13" y1="370.90" x2="197.13" y2="373.40" stroke="#606060" stroke-width="1.00" />
<text x="197.13" y="382.70" font-size="8.80" text-anchor="middle" font-weight="normal" fill="#333" stroke="#333" stroke-width="0.22" >-1.0</text>
<line x1="216.95" y1="370.90" x2="216.95" y2="372.40" stroke="#606060" stroke-width="1.00" />
<line x1="236.77" y1="370.90" x2="236.77" y2="373.40" stroke="#606060" stroke-width="1.00" />
<text x="236.77" y="382.70" font-size="8.80" text-anchor="middle" font-weight="normal" fill="#333" stroke="#333" stroke-width="0.22" >-0.5</text>
<line x1="256.58" y1="370.90" x2="256.58" y2="372.40" stroke="#606060" stroke-width="1.00" />
<line x1="276.40" y1="370.90" x2="276.40" y2="373.40" stroke="#606060" stroke-width="1.00" />
<text x="276.40" y="382.70" font-size="8.80" text-anchor="middle" font-weight="normal" fill="#333" stroke="#333" stroke-width="0.22" >0.0</text>
<text x="262.80" y="228.80" font-size="13.00" text-anchor="middle" font-weight="bold" fill="#111" stroke="#111" stroke-width="0.22" >c</text>
<text x="157.50" y="396.70" font-size="9.20" text-anchor="middle" font-weight="bold" fill="#222" stroke="#222" stroke-width="0.22" >log(<tspan font-style="italic">j</tspan> / mA cm<tspan dy="-3.2" font-size="5.8">-2</tspan><tspan dy="3.2">)</tspan></text>
<g transform="translate(14.20,284.50) rotate(-90)">
<text x="0.00" y="0.00" font-size="9.20" text-anchor="middle" font-weight="bold" fill="#222" stroke="#222" stroke-width="0.22" ><tspan font-style="italic">E</tspan> (V <tspan font-style="italic">vs.</tspan> Li/Li<tspan dy="-3.2" font-size="5.8">+</tspan><tspan dy="3.2">)</tspan></text>
</g>
<clipPath id="cclip"><rect x="38.60" y="212.70" width="237.80" height="158.20"/></clipPath>
<g clip-path="url(#cclip)">
<line x1="39.90" y1="213.80" x2="80.30" y2="227.13" stroke="#f8b46a" stroke-width="0.90" stroke-dasharray="1,1.6"/>
<line x1="176.00" y1="258.71" x2="208.00" y2="269.27" stroke="#f8b46a" stroke-width="0.90" stroke-dasharray="1,1.6"/>
<line x1="40.00" y1="211.20" x2="80.30" y2="228.53" stroke="#c78af5" stroke-width="0.90" stroke-dasharray="1,1.6"/>
<line x1="182.00" y1="272.26" x2="206.50" y2="282.79" stroke="#c78af5" stroke-width="0.90" stroke-dasharray="1,1.6"/>
<line x1="38.60" y1="224.50" x2="88.70" y2="239.53" stroke="#7c7cf2" stroke-width="0.90" stroke-dasharray="1,1.6"/>
<line x1="168.00" y1="263.32" x2="211.50" y2="276.37" stroke="#7c7cf2" stroke-width="0.90" stroke-dasharray="1,1.6"/>
<line x1="38.60" y1="227.90" x2="73.30" y2="237.96" stroke="#5ae4e4" stroke-width="0.90" stroke-dasharray="1,1.6"/>
<line x1="172.00" y1="266.59" x2="204.50" y2="276.01" stroke="#5ae4e4" stroke-width="0.90" stroke-dasharray="1,1.6"/>
<line x1="38.60" y1="246.60" x2="71.30" y2="253.50" stroke="#f37272" stroke-width="0.90" stroke-dasharray="1,1.6"/>
<line x1="168.00" y1="273.90" x2="189.50" y2="278.44" stroke="#f37272" stroke-width="0.90" stroke-dasharray="1,1.6"/>
</g>
<path d="M73.30,238.10 L74.30,238.45 L75.30,238.81 L76.30,239.15 L77.30,239.49 L78.30,239.83 L79.30,240.16 L80.30,240.48 L81.30,240.80 L82.30,241.11 L83.30,241.42 L84.30,241.72 L85.30,242.02 L86.30,242.31 L87.30,242.60 L88.30,242.89 L89.30,243.17 L90.30,243.45 L91.30,243.72 L92.30,243.99 L93.30,244.26 L94.30,244.52 L95.30,244.79 L96.30,245.05 L97.30,245.30 L98.30,245.56 L99.30,245.81 L100.30,246.06 L101.30,246.31 L102.30,246.56 L103.30,246.81 L104.30,247.05 L105.30,247.30 L106.30,247.54 L107.30,247.78 L108.30,248.03 L109.30,248.27 L110.30,248.51 L111.30,248.75 L112.30,249.00 L113.30,249.24 L114.30,249.49 L115.30,249.73 L116.30,249.98 L117.30,250.23 L118.30,250.47 L119.30,250.73 L120.30,250.98 L121.30,251.23 L122.30,251.49 L123.30,251.75 L124.30,252.01 L125.30,252.28 L126.30,252.55 L127.30,252.82 L128.30,253.09 L129.30,253.37 L130.30,253.65 L131.30,253.94 L132.30,254.23 L133.30,254.52 L134.30,254.82 L135.30,255.12 L136.30,255.43 L137.30,255.74 L138.30,256.06 L139.30,256.39 L140.30,256.72 L141.30,257.05 L142.30,257.39 L143.30,257.74 L144.30,258.09 L145.30,258.45 L146.30,258.82 L147.30,259.19 L148.30,259.57 L149.30,259.96 L150.30,260.36 L151.30,260.76 L152.30,261.17 L153.30,261.59 L154.30,262.01 L155.30,262.44 L156.30,262.88 L157.30,263.32 L158.30,263.78 L159.30,264.23 L160.30,264.70 L161.30,265.17 L162.30,265.65 L163.30,266.13 L164.30,266.62 L165.30,267.11 L166.30,267.62 L167.30,268.12 L168.30,268.63 L169.30,269.15 L170.30,269.68 L171.30,270.21 L172.30,270.74 L173.30,271.28 L174.30,271.82 L175.30,272.37 L176.30,272.92 L177.30,273.48 L178.30,274.05 L179.30,274.61 L180.30,275.19 L181.30,275.76 L182.30,276.34 L183.30,276.93 L184.30,277.51 L185.30,278.11 L186.30,278.70 L187.30,279.30 L188.30,279.90 L189.30,280.51 L190.30,281.12 L191.30,281.73 L192.30,282.35 L193.30,282.97 L194.30,283.59 L195.30,284.21 L196.30,284.84 L197.30,285.47 L198.30,286.10 L199.30,286.74 L200.30,287.37 L201.30,288.01 L202.30,288.66 L203.30,289.30 L204.30,289.95 L205.30,290.60 L206.30,291.25 L207.30,291.91 L208.30,292.58 L209.30,293.24 L210.30,293.91 L211.30,294.59 L212.30,295.27 L213.30,295.96 L214.30,296.65 L215.30,297.35 L216.30,298.06 L217.30,298.78 L218.30,299.52 L219.30,300.28 L220.30,301.07 L221.30,301.89 L222.30,302.74 L223.30,303.64 L224.30,304.57 L225.30,305.56 L226.30,306.59 L227.30,307.68 L228.30,308.84 L229.30,310.05 L230.30,311.32 L231.30,312.61 L232.30,313.85 L233.30,315.01 L234.30,316.11 L235.30,317.18 L236.30,318.23 L237.30,319.29 L238.30,320.38 L239.30,321.52 L240.30,322.74 L241.30,324.04 L242.30,325.41 L243.30,326.85 L244.30,328.34 L245.30,329.89 L246.30,331.48 L247.30,333.11 L248.30,334.77 L249.30,336.46 L250.30,338.16 L251.30,339.87 L252.30,341.58 L253.30,343.29 L254.30,344.99 L255.30,346.67 L256.30,348.32 L257.30,349.94 L258.30,351.52 L259.30,353.06 L260.30,354.54 L261.30,355.96 L262.30,357.31 L263.30,358.59 L264.30,359.78 L265.30,360.89 L266.30,361.90 L266.40,361.99" fill="none" stroke="#22dede" stroke-width="1.30" stroke-linejoin="round" stroke-linecap="round" />
<path d="M71.30,253.33 L72.30,253.50 L73.30,253.67 L74.30,253.85 L75.30,254.02 L76.30,254.20 L77.30,254.38 L78.30,254.55 L79.30,254.73 L80.30,254.91 L81.30,255.09 L82.30,255.27 L83.30,255.45 L84.30,255.63 L85.30,255.81 L86.30,256.00 L87.30,256.18 L88.30,256.37 L89.30,256.55 L90.30,256.74 L91.30,256.93 L92.30,257.12 L93.30,257.31 L94.30,257.50 L95.30,257.69 L96.30,257.88 L97.30,258.07 L98.30,258.27 L99.30,258.46 L100.30,258.66 L101.30,258.86 L102.30,259.06 L103.30,259.26 L104.30,259.46 L105.30,259.66 L106.30,259.86 L107.30,260.06 L108.30,260.27 L109.30,260.47 L110.30,260.68 L111.30,260.89 L112.30,261.10 L113.30,261.31 L114.30,261.52 L115.30,261.73 L116.30,261.94 L117.30,262.16 L118.30,262.37 L119.30,262.59 L120.30,262.81 L121.30,263.03 L122.30,263.25 L123.30,263.47 L124.30,263.69 L125.30,263.91 L126.30,264.14 L127.30,264.37 L128.30,264.59 L129.30,264.82 L130.30,265.05 L131.30,265.28 L132.30,265.52 L133.30,265.75 L134.30,265.99 L135.30,266.22 L136.30,266.46 L137.30,266.70 L138.30,266.94 L139.30,267.18 L140.30,267.43 L141.30,267.67 L142.30,267.92 L143.30,268.16 L144.30,268.41 L145.30,268.66 L146.30,268.91 L147.30,269.17 L148.30,269.42 L149.30,269.68 L150.30,269.94 L151.30,270.20 L152.30,270.46 L153.30,270.72 L154.30,270.98 L155.30,271.25 L156.30,271.52 L157.30,271.79 L158.30,272.07 L159.30,272.35 L160.30,272.63 L161.30,272.91 L162.30,273.20 L163.30,273.49 L164.30,273.79 L165.30,274.08 L166.30,274.39 L167.30,274.69 L168.30,275.01 L169.30,275.32 L170.30,275.64 L171.30,275.97 L172.30,276.30 L173.30,276.64 L174.30,276.98 L175.30,277.33 L176.30,277.68 L177.30,278.04 L178.30,278.40 L179.30,278.78 L180.30,279.15 L181.30,279.54 L182.30,279.93 L183.30,280.33 L184.30,280.73 L185.30,281.15 L186.30,281.57 L187.30,281.99 L188.30,282.43 L189.30,282.87 L190.30,283.33 L191.30,283.78 L192.30,284.25 L193.30,284.73 L194.30,285.22 L195.30,285.71 L196.30,286.21 L197.30,286.73 L198.30,287.25 L199.30,287.78 L200.30,288.32 L201.30,288.88 L202.30,289.44 L203.30,290.01 L204.30,290.60 L205.30,291.19 L206.30,291.80 L207.30,292.42 L208.30,293.05 L209.30,293.69 L210.30,294.35 L211.30,295.02 L212.30,295.70 L213.30,296.40 L214.30,297.11 L215.30,297.84 L216.30,298.58 L217.30,299.34 L218.30,300.11 L219.30,300.90 L220.30,301.70 L221.30,302.52 L222.30,303.36 L223.30,304.21 L224.30,305.08 L225.30,305.97 L226.30,306.88 L227.30,307.80 L228.30,308.75 L229.30,309.71 L230.30,310.69 L231.30,311.69 L232.30,312.71 L233.30,313.76 L234.30,314.82 L235.30,315.90 L236.30,317.01 L237.30,318.14 L238.30,319.29 L239.30,320.46 L240.30,321.65 L241.30,322.87 L242.30,324.11 L243.30,325.38 L244.30,326.67 L245.30,327.99 L246.30,329.33 L247.30,330.70 L248.30,332.09 L249.30,333.51 L250.30,334.96 L251.30,336.43 L252.30,337.93 L253.30,339.46 L254.30,341.02 L255.30,342.61 L256.30,344.22 L257.30,345.87 L258.30,347.54 L259.30,349.25 L260.30,350.99 L261.30,352.76 L262.30,354.56 L263.30,356.39 L264.30,358.25 L265.30,360.15 L265.80,361.11" fill="none" stroke="#f0444f" stroke-width="1.30" stroke-linejoin="round" stroke-linecap="round" />
<path d="M80.30,226.24 L81.30,226.71 L82.30,227.17 L83.30,227.62 L84.30,228.07 L85.30,228.51 L86.30,228.94 L87.30,229.37 L88.30,229.78 L89.30,230.19 L90.30,230.60 L91.30,231.00 L92.30,231.39 L93.30,231.78 L94.30,232.16 L95.30,232.53 L96.30,232.90 L97.30,233.26 L98.30,233.62 L99.30,233.97 L100.30,234.32 L101.30,234.67 L102.30,235.00 L103.30,235.34 L104.30,235.67 L105.30,235.99 L106.30,236.32 L107.30,236.63 L108.30,236.95 L109.30,237.26 L110.30,237.57 L111.30,237.87 L112.30,238.18 L113.30,238.47 L114.30,238.77 L115.30,239.07 L116.30,239.36 L117.30,239.65 L118.30,239.93 L119.30,240.22 L120.30,240.50 L121.30,240.79 L122.30,241.07 L123.30,241.35 L124.30,241.63 L125.30,241.91 L126.30,242.18 L127.30,242.46 L128.30,242.74 L129.30,243.02 L130.30,243.29 L131.30,243.57 L132.30,243.85 L133.30,244.13 L134.30,244.40 L135.30,244.68 L136.30,244.96 L137.30,245.25 L138.30,245.53 L139.30,245.81 L140.30,246.10 L141.30,246.39 L142.30,246.68 L143.30,246.97 L144.30,247.26 L145.30,247.56 L146.30,247.86 L147.30,248.16 L148.30,248.47 L149.30,248.78 L150.30,249.09 L151.30,249.40 L152.30,249.72 L153.30,250.04 L154.30,250.37 L155.30,250.70 L156.30,251.04 L157.30,251.37 L158.30,251.72 L159.30,252.07 L160.30,252.42 L161.30,252.78 L162.30,253.14 L163.30,253.51 L164.30,253.89 L165.30,254.27 L166.30,254.66 L167.30,255.05 L168.30,255.45 L169.30,255.85 L170.30,256.27 L171.30,256.68 L172.30,257.11 L173.30,257.54 L174.30,257.98 L175.30,258.43 L176.30,258.88 L177.30,259.35 L178.30,259.82 L179.30,260.30 L180.30,260.78 L181.30,261.28 L182.30,261.78 L183.30,262.30 L184.30,262.82 L185.30,263.35 L186.30,263.89 L187.30,264.44 L188.30,264.99 L189.30,265.56 L190.30,266.14 L191.30,266.73 L192.30,267.33 L193.30,267.94 L194.30,268.56 L195.30,269.18 L196.30,269.83 L197.30,270.48 L198.30,271.14 L199.30,271.81 L200.30,272.50 L201.30,273.20 L202.30,273.91 L203.30,274.63 L204.30,275.36 L205.30,276.11 L206.30,276.87 L207.30,277.64 L208.30,278.43 L209.30,279.23 L210.30,280.04 L211.30,280.87 L212.30,281.71 L213.30,282.56 L214.30,283.43 L215.30,284.32 L216.30,285.22 L217.30,286.13 L218.30,287.07 L219.30,288.01 L220.30,288.98 L221.30,289.95 L222.30,290.95 L223.30,291.96 L224.30,292.99 L225.30,294.04 L226.30,295.10 L227.30,296.18 L228.30,297.28 L229.30,298.40 L230.30,299.53 L231.30,300.68 L232.30,301.85 L233.30,303.05 L234.30,304.26 L235.30,305.48 L236.30,306.73 L237.30,308.00 L238.30,309.29 L239.30,310.60 L240.30,311.93 L241.30,313.28 L242.30,314.65 L243.30,316.05 L244.30,317.49 L245.30,318.98 L246.30,320.54 L247.30,322.19 L248.30,323.94 L249.30,325.79 L250.30,327.78 L251.30,329.90 L252.30,332.18 L253.30,334.63 L254.30,337.26 L255.30,340.08 L256.30,343.12 L257.30,346.39 L258.30,349.89 L259.30,353.65 L260.30,357.68 L261.20,361.54" fill="none" stroke="#f9a13a" stroke-width="1.30" stroke-linejoin="round" stroke-linecap="round" />
<path d="M88.70,239.48 L89.70,239.73 L90.70,239.98 L91.70,240.23 L92.70,240.48 L93.70,240.73 L94.70,240.98 L95.70,241.23 L96.70,241.48 L97.70,241.72 L98.70,241.97 L99.70,242.22 L100.70,242.47 L101.70,242.72 L102.70,242.97 L103.70,243.22 L104.70,243.46 L105.70,243.71 L106.70,243.96 L107.70,244.22 L108.70,244.47 L109.70,244.72 L110.70,244.97 L111.70,245.23 L112.70,245.48 L113.70,245.74 L114.70,246.00 L115.70,246.25 L116.70,246.51 L117.70,246.78 L118.70,247.04 L119.70,247.30 L120.70,247.57 L121.70,247.84 L122.70,248.11 L123.70,248.38 L124.70,248.65 L125.70,248.93 L126.70,249.21 L127.70,249.49 L128.70,249.77 L129.70,250.05 L130.70,250.34 L131.70,250.63 L132.70,250.92 L133.70,251.22 L134.70,251.51 L135.70,251.81 L136.70,252.12 L137.70,252.42 L138.70,252.73 L139.70,253.05 L140.70,253.36 L141.70,253.68 L142.70,254.01 L143.70,254.33 L144.70,254.66 L145.70,254.99 L146.70,255.33 L147.70,255.67 L148.70,256.02 L149.70,256.37 L150.70,256.72 L151.70,257.08 L152.70,257.44 L153.70,257.80 L154.70,258.17 L155.70,258.55 L156.70,258.93 L157.70,259.31 L158.70,259.70 L159.70,260.09 L160.70,260.49 L161.70,260.89 L162.70,261.30 L163.70,261.71 L164.70,262.13 L165.70,262.55 L166.70,262.98 L167.70,263.41 L168.70,263.85 L169.70,264.30 L170.70,264.75 L171.70,265.21 L172.70,265.67 L173.70,266.14 L174.70,266.61 L175.70,267.09 L176.70,267.58 L177.70,268.07 L178.70,268.57 L179.70,269.07 L180.70,269.58 L181.70,270.10 L182.70,270.63 L183.70,271.16 L184.70,271.70 L185.70,272.24 L186.70,272.79 L187.70,273.35 L188.70,273.92 L189.70,274.49 L190.70,275.07 L191.70,275.66 L192.70,276.25 L193.70,276.86 L194.70,277.47 L195.70,278.08 L196.70,278.71 L197.70,279.34 L198.70,279.98 L199.70,280.63 L200.70,281.29 L201.70,281.96 L202.70,282.63 L203.70,283.32 L204.70,284.02 L205.70,284.73 L206.70,285.46 L207.70,286.21 L208.70,286.97 L209.70,287.74 L210.70,288.54 L211.70,289.35 L212.70,290.19 L213.70,291.05 L214.70,291.93 L215.70,292.83 L216.70,293.76 L217.70,294.72 L218.70,295.70 L219.70,296.71 L220.70,297.75 L221.70,298.81 L222.70,299.91 L223.70,301.04 L224.70,302.21 L225.70,303.41 L226.70,304.64 L227.70,305.91 L228.70,307.22 L229.70,308.56 L230.70,309.95 L231.70,311.37 L232.70,312.84 L233.70,314.35 L234.70,315.90 L235.70,317.50 L236.70,319.14 L237.70,320.83 L238.70,322.57 L239.70,324.35 L240.70,326.19 L241.70,328.07 L242.70,330.02 L243.70,332.02 L244.70,334.09 L245.70,336.22 L246.70,338.42 L247.70,340.70 L248.70,343.06 L249.70,345.49 L250.70,348.01 L251.70,350.62 L252.70,353.32 L253.70,356.11 L254.70,359.01 L255.50,361.39" fill="none" stroke="#4848f0" stroke-width="1.30" stroke-linejoin="round" stroke-linecap="round" />
<path d="M80.30,226.70 L81.30,227.34 L82.30,227.97 L83.30,228.58 L84.30,229.18 L85.30,229.76 L86.30,230.33 L87.30,230.89 L88.30,231.43 L89.30,231.96 L90.30,232.48 L91.30,232.99 L92.30,233.49 L93.30,233.98 L94.30,234.46 L95.30,234.93 L96.30,235.38 L97.30,235.83 L98.30,236.27 L99.30,236.70 L100.30,237.13 L101.30,237.54 L102.30,237.95 L103.30,238.35 L104.30,238.75 L105.30,239.13 L106.30,239.52 L107.30,239.89 L108.30,240.27 L109.30,240.63 L110.30,241.00 L111.30,241.35 L112.30,241.71 L113.30,242.06 L114.30,242.41 L115.30,242.75 L116.30,243.10 L117.30,243.44 L118.30,243.78 L119.30,244.12 L120.30,244.46 L121.30,244.80 L122.30,245.13 L123.30,245.47 L124.30,245.81 L125.30,246.15 L126.30,246.49 L127.30,246.84 L128.30,247.18 L129.30,247.53 L130.30,247.88 L131.30,248.24 L132.30,248.59 L133.30,248.96 L134.30,249.32 L135.30,249.69 L136.30,250.07 L137.30,250.45 L138.30,250.84 L139.30,251.23 L140.30,251.62 L141.30,252.02 L142.30,252.42 L143.30,252.83 L144.30,253.23 L145.30,253.65 L146.30,254.06 L147.30,254.48 L148.30,254.90 L149.30,255.33 L150.30,255.75 L151.30,256.18 L152.30,256.61 L153.30,257.05 L154.30,257.48 L155.30,257.92 L156.30,258.35 L157.30,258.79 L158.30,259.24 L159.30,259.68 L160.30,260.12 L161.30,260.56 L162.30,261.01 L163.30,261.45 L164.30,261.89 L165.30,262.34 L166.30,262.78 L167.30,263.23 L168.30,263.68 L169.30,264.12 L170.30,264.57 L171.30,265.02 L172.30,265.47 L173.30,265.93 L174.30,266.38 L175.30,266.84 L176.30,267.31 L177.30,267.77 L178.30,268.24 L179.30,268.72 L180.30,269.20 L181.30,269.68 L182.30,270.17 L183.30,270.66 L184.30,271.16 L185.30,271.66 L186.30,272.17 L187.30,272.69 L188.30,273.21 L189.30,273.74 L190.30,274.28 L191.30,274.82 L192.30,275.37 L193.30,275.93 L194.30,276.50 L195.30,277.08 L196.30,277.66 L197.30,278.26 L198.30,278.86 L199.30,279.47 L200.30,280.10 L201.30,280.73 L202.30,281.38 L203.30,282.03 L204.30,282.70 L205.30,283.38 L206.30,284.06 L207.30,284.76 L208.30,285.48 L209.30,286.20 L210.30,286.94 L211.30,287.69 L212.30,288.45 L213.30,289.22 L214.30,290.01 L215.30,290.81 L216.30,291.63 L217.30,292.46 L218.30,293.30 L219.30,294.16 L220.30,295.03 L221.30,295.92 L222.30,296.82 L223.30,297.74 L224.30,298.67 L225.30,299.62 L226.30,300.59 L227.30,301.57 L228.30,302.57 L229.30,303.59 L230.30,304.62 L231.30,305.67 L232.30,306.74 L233.30,307.83 L234.30,308.93 L235.30,310.06 L236.30,311.21 L237.30,312.39 L238.30,313.58 L239.30,314.80 L240.30,316.05 L241.30,317.32 L242.30,318.62 L243.30,319.94 L244.30,321.29 L245.30,322.67 L246.30,324.07 L247.30,325.50 L248.30,326.96 L249.30,328.45 L250.30,329.97 L251.30,331.51 L252.30,333.09 L253.30,334.69 L254.30,336.32 L255.30,337.98 L256.30,339.67 L257.30,341.40 L258.30,343.15 L259.30,344.93 L260.30,346.74 L261.30,348.58 L262.30,350.46 L263.30,352.36 L264.30,354.30 L265.30,356.27 L266.30,358.27 L267.30,360.30 L268.30,362.37" fill="none" stroke="#aa4cf2" stroke-width="1.30" stroke-linejoin="round" stroke-linecap="round" />
<text x="69.00" y="221.40" font-size="6.60" text-anchor="start" font-weight="bold" fill="#aa4cf2" stroke="#aa4cf2" stroke-width="0.08" >147 mV dec<tspan dy="-2.2" font-size="3.8">-1</tspan></text>
<text x="138.20" y="240.40" font-size="6.60" text-anchor="start" font-weight="bold" fill="#f9a13a" stroke="#f9a13a" stroke-width="0.08" >116 mV dec<tspan dy="-2.2" font-size="3.8">-1</tspan></text>
<text x="48.60" y="248.30" font-size="6.60" text-anchor="start" font-weight="bold" fill="#22dede" stroke="#22dede" stroke-width="0.08" >102 mV dec<tspan dy="-2.2" font-size="3.8">-1</tspan></text>
<text x="102.60" y="276.60" font-size="6.60" text-anchor="start" font-weight="bold" fill="#f0444f" stroke="#f0444f" stroke-width="0.08" >74 mV dec<tspan dy="-2.2" font-size="3.8">-1</tspan></text>
<text x="217.30" y="282.20" font-size="6.60" text-anchor="start" font-weight="bold" fill="#4848f0" stroke="#4848f0" stroke-width="0.08" >104 mV dec<tspan dy="-2.2" font-size="3.8">-1</tspan></text>
<line x1="46.90" y1="313.80" x2="63.70" y2="313.80" stroke="#c78af5" stroke-width="1.90" />
<text x="66.60" y="316.60" font-size="7.85" text-anchor="start" font-weight="normal" fill="#333" stroke="#333" stroke-width="0.10" >MnO<tspan dy="2" font-size="5.2">2</tspan></text>
<line x1="46.90" y1="325.02" x2="63.70" y2="325.02" stroke="#f8b46a" stroke-width="1.90" />
<text x="66.60" y="327.82" font-size="7.85" text-anchor="start" font-weight="normal" fill="#333" stroke="#333" stroke-width="0.10" >2Co_MnO<tspan dy="2" font-size="5.2">2</tspan></text>
<line x1="46.90" y1="336.24" x2="63.70" y2="336.24" stroke="#f37272" stroke-width="1.90" />
<text x="66.60" y="339.04" font-size="7.85" text-anchor="start" font-weight="normal" fill="#333" stroke="#333" stroke-width="0.10" >5Co_MnO<tspan dy="2" font-size="5.2">2</tspan></text>
<line x1="46.90" y1="347.46" x2="63.70" y2="347.46" stroke="#5ae4e4" stroke-width="1.90" />
<text x="66.60" y="350.26" font-size="7.85" text-anchor="start" font-weight="normal" fill="#333" stroke="#333" stroke-width="0.10" >2Fe_MnO<tspan dy="2" font-size="5.2">2</tspan></text>
<line x1="46.90" y1="358.68" x2="63.70" y2="358.68" stroke="#7c7cf2" stroke-width="1.90" />
<text x="66.60" y="361.48" font-size="7.85" text-anchor="start" font-weight="normal" fill="#333" stroke="#333" stroke-width="0.10" >5Fe_MnO<tspan dy="2" font-size="5.2">2</tspan></text>
<polyline points="358.9,351.8 317.6,351.8 317.6,216.3 421.5,216.3" fill="none" stroke="#444" stroke-width="0.9"/>
<path d="M424,216.3 L420,214.6 L420,218 Z" fill="#222"/>
<rect x="428.40" y="210.50" width="34.90" height="15.00" fill="#fff" stroke="#e2e2e2" stroke-width="0.9"/>
<line x1="463.30" y1="211.00" x2="463.30" y2="225.50" stroke="#a0a0a0" stroke-width="1.40" />
<line x1="428.90" y1="225.50" x2="463.30" y2="225.50" stroke="#d6d6d6" stroke-width="1.00" />
<text x="433.20" y="221.30" font-size="9.50" text-anchor="start" font-weight="normal" fill="#222" stroke="#222" stroke-width="0.22" >O<tspan dy="2.2" font-size="6">2,ads</tspan></text>
<line x1="446.30" y1="229.00" x2="446.30" y2="277.00" stroke="#1fba36" stroke-width="1.10" />
<path d="M446.3,280 L444.5,275.6 L448.1,275.6 Z" fill="#1fba36"/>
<text x="438.40" y="246.80" font-size="8.10" text-anchor="end" font-weight="bold" fill="#1fba36" stroke="#1fba36" stroke-width="0.00" >+ e<tspan dy="-2.8" font-size="5">-</tspan><tspan dy="2.8"> + Li</tspan><tspan dy="-2.8" font-size="5">+</tspan></text>
<text x="374.40" y="261.20" font-size="8.20" text-anchor="start" font-weight="bold" fill="#1fba36" stroke="#1fba36" stroke-width="0.00" >-<tspan font-style="italic">b</tspan> <tspan font-weight="normal">&#8771;</tspan> 118 mV dec<tspan dy="-2.8" font-size="5">-</tspan></text>
<text x="435.30" y="266.00" font-size="5.00" text-anchor="start" font-weight="bold" fill="#1fba36" stroke="#1fba36" stroke-width="0.10" >1</text>
<text x="454.40" y="254.30" font-size="8.30" text-anchor="start" font-weight="normal" fill="#111" stroke="#111" stroke-width="0.22" ><tspan fill="#1fba36" stroke="#1fba36">RDS</tspan> for <tspan font-weight="bold">2Co_MnO<tspan dy="2" font-size="5.4">2</tspan></tspan></text>
<rect x="430.40" y="283.00" width="36.10" height="15.60" fill="#fff" stroke="#e2e2e2" stroke-width="0.9"/>
<line x1="466.50" y1="283.50" x2="466.50" y2="298.60" stroke="#a0a0a0" stroke-width="1.40" />
<line x1="430.90" y1="298.60" x2="466.50" y2="298.60" stroke="#d6d6d6" stroke-width="1.00" />
<text x="438.20" y="294.80" font-size="9.60" text-anchor="start" font-weight="normal" fill="#1fba36" stroke="#1fba36" stroke-width="0.45" >LiO<tspan dy="2.3" font-size="6.2">2</tspan></text>
<line x1="446.90" y1="302.30" x2="408.20" y2="340.30" stroke="#f03cf0" stroke-width="0.90" />
<path d="M406.3,342.2 L407.6,338.1 L410.2,340.7 Z" fill="#f03cf0"/>
<text x="405.80" y="313.70" font-size="8.30" text-anchor="start" font-weight="normal" fill="#f03cf0" stroke="#f03cf0" stroke-width="0.25" >+ LiO<tspan dy="2.2" font-size="5.4">2</tspan></text>
<text x="352.90" y="326.10" font-size="8.30" text-anchor="start" font-weight="normal" fill="#f03cf0" stroke="#f03cf0" stroke-width="0.25" >-<tspan font-style="italic">b</tspan> &gt; 118 mV dec<tspan dy="-2.8" font-size="5">-1</tspan></text>
<line x1="447.60" y1="302.00" x2="487.40" y2="341.00" stroke="#c8902c" stroke-width="0.90" />
<path d="M489.3,342.8 L485.3,341.6 L487.9,339 Z" fill="#c8902c"/>
<text x="468.10" y="313.50" font-size="8.30" text-anchor="start" font-weight="normal" fill="#c8902c" stroke="#c8902c" stroke-width="0.25" >+ e<tspan dy="-2.8" font-size="5">-</tspan><tspan dy="2.8"> + Li</tspan><tspan dy="-2.8" font-size="5">+</tspan></text>
<text x="479.70" y="325.90" font-size="8.30" text-anchor="start" font-weight="normal" fill="#c8902c" stroke="#c8902c" stroke-width="0.25" >-<tspan font-style="italic">b</tspan> &lt; 118 mV dec<tspan dy="-2.8" font-size="5">-1</tspan></text>
<rect x="363.30" y="344.30" width="53.40" height="16.00" fill="#fff" stroke="#e2e2e2" stroke-width="0.9"/>
<line x1="416.70" y1="344.80" x2="416.70" y2="360.30" stroke="#a0a0a0" stroke-width="1.40" />
<line x1="363.80" y1="360.30" x2="416.70" y2="360.30" stroke="#d6d6d6" stroke-width="1.00" />
<text x="366.80" y="355.90" font-size="9.50" text-anchor="start" font-weight="normal" fill="#f03cf0" stroke="#f03cf0" stroke-width="0.30" >O<tspan dy="2.2" font-size="6">2</tspan><tspan dy="-2.2"> + Li</tspan><tspan dy="2.2" font-size="6">2</tspan><tspan dy="-2.2">O</tspan><tspan dy="2.2" font-size="6">2</tspan></text>
<text x="365.60" y="373.20" font-size="8.30" text-anchor="start" font-weight="normal" fill="#111" stroke="#111" stroke-width="0.22" ><tspan fill="#f03cf0" stroke="#f03cf0">RDS</tspan> for <tspan font-weight="bold">MnO<tspan dy="2" font-size="5.4">2</tspan></tspan></text>
<rect x="496.50" y="342.60" width="38.30" height="15.40" fill="#fff" stroke="#e2e2e2" stroke-width="0.9"/>
<line x1="534.80" y1="343.10" x2="534.80" y2="358.00" stroke="#a0a0a0" stroke-width="1.40" />
<line x1="497.00" y1="358.00" x2="534.80" y2="358.00" stroke="#d6d6d6" stroke-width="1.00" />
<text x="503.20" y="354.60" font-size="10.00" text-anchor="start" font-weight="normal" fill="#c8902c" stroke="#c8902c" stroke-width="0.30" >Li<tspan dy="2.2" font-size="6.4">2</tspan><tspan dy="-2.2">O</tspan><tspan dy="2.2" font-size="6.4">2</tspan></text>
<text x="516.80" y="371.00" font-size="8.30" text-anchor="middle" font-weight="normal" fill="#111" stroke="#111" stroke-width="0.22" ><tspan fill="#c8902c" stroke="#c8902c">RDS</tspan> for</text>
<text x="516.60" y="381.40" font-size="8.40" text-anchor="middle" font-weight="bold" fill="#111" stroke="#111" stroke-width="0.22" >5Co_MnO<tspan dy="2" font-size="5.4">2</tspan></text>
<text x="516.60" y="390.50" font-size="8.40" text-anchor="middle" font-weight="bold" fill="#111" stroke="#111" stroke-width="0.22" >2Fe_MnO<tspan dy="2" font-size="5.4">2</tspan></text>
<text x="516.60" y="399.60" font-size="8.40" text-anchor="middle" font-weight="bold" fill="#111" stroke="#111" stroke-width="0.22" >5Fe_MnO<tspan dy="2" font-size="5.4">2</tspan></text>
<text x="529.30" y="228.80" font-size="13.00" text-anchor="middle" font-weight="bold" fill="#111" stroke="#111" stroke-width="0.22" >d</text>
</svg></body></html>
